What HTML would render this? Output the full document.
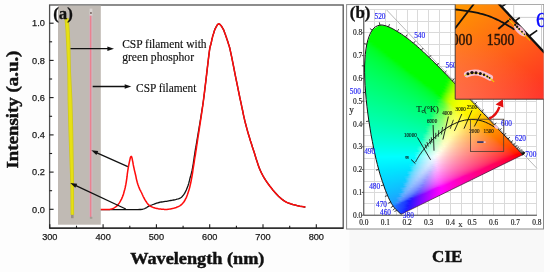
<!DOCTYPE html><html><head><meta charset="utf-8"><style>
*{margin:0;padding:0}
html,body{width:550px;height:272px;overflow:hidden;background:#fdfdfd}
.layer{position:absolute;left:0;top:0;width:550px;height:272px}
#cie{position:absolute;left:0;top:0;width:550px;height:272px}
#cie div{position:absolute}
text{font-family:'Liberation Serif',serif}
.tl{font-family:'Liberation Sans',sans-serif;font-size:9.2px;fill:#1a1a1a;stroke:#1a1a1a;stroke-width:0.25}
.ann{font-size:11.5px;fill:#111;stroke:#111;stroke-width:0.15}
.lbl{font-size:16.8px;font-weight:bold;fill:#111;stroke:#111;stroke-width:0.3}
.big{font-size:17px;font-weight:bold;fill:#111;stroke:#111;stroke-width:0.45}
.cl{font-size:7.4px;fill:#222;stroke:#222;stroke-width:0.15}
.wl{font-size:7.6px;fill:#2222f2;stroke:#2222f2;stroke-width:0.15}
.ct{fill:#111;stroke:#111;stroke-width:0.12}
.g{stroke:#dadada;stroke-width:1}
</style></head><body><svg class="layer" width="550" height="272" viewBox="0 0 550 272"><rect x="49.6" y="5.0" width="293.6" height="223.2" fill="#fff" stroke="#505050" stroke-width="1.3"/><line x1="49.6" y1="228.2" x2="343.2" y2="228.2" stroke="#1e1e1e" stroke-width="1.3"/><line x1="49.6" y1="209.3" x2="53.6" y2="209.3" stroke="#1a1a1a" stroke-width="1.1"/><text x="44.8" y="212.5" text-anchor="end" class="tl">0.0</text><line x1="49.6" y1="172.1" x2="53.6" y2="172.1" stroke="#1a1a1a" stroke-width="1.1"/><text x="44.8" y="175.3" text-anchor="end" class="tl">0.2</text><line x1="49.6" y1="134.9" x2="53.6" y2="134.9" stroke="#1a1a1a" stroke-width="1.1"/><text x="44.8" y="138.1" text-anchor="end" class="tl">0.4</text><line x1="49.6" y1="97.6" x2="53.6" y2="97.6" stroke="#1a1a1a" stroke-width="1.1"/><text x="44.8" y="100.8" text-anchor="end" class="tl">0.6</text><line x1="49.6" y1="60.4" x2="53.6" y2="60.4" stroke="#1a1a1a" stroke-width="1.1"/><text x="44.8" y="63.6" text-anchor="end" class="tl">0.8</text><line x1="49.6" y1="23.2" x2="53.6" y2="23.2" stroke="#1a1a1a" stroke-width="1.1"/><text x="44.8" y="26.4" text-anchor="end" class="tl">1.0</text><line x1="49.6" y1="190.7" x2="52.1" y2="190.7" stroke="#1a1a1a" stroke-width="1.1"/><line x1="49.6" y1="153.5" x2="52.1" y2="153.5" stroke="#1a1a1a" stroke-width="1.1"/><line x1="49.6" y1="116.3" x2="52.1" y2="116.3" stroke="#1a1a1a" stroke-width="1.1"/><line x1="49.6" y1="79" x2="52.1" y2="79" stroke="#1a1a1a" stroke-width="1.1"/><line x1="49.6" y1="41.8" x2="52.1" y2="41.8" stroke="#1a1a1a" stroke-width="1.1"/><line x1="49.8" y1="228.2" x2="49.8" y2="224.2" stroke="#1a1a1a" stroke-width="1.1"/><text x="49.8" y="240.4" text-anchor="middle" class="tl">300</text><line x1="103.1" y1="228.2" x2="103.1" y2="224.2" stroke="#1a1a1a" stroke-width="1.1"/><text x="103.1" y="240.4" text-anchor="middle" class="tl">400</text><line x1="156.4" y1="228.2" x2="156.4" y2="224.2" stroke="#1a1a1a" stroke-width="1.1"/><text x="156.4" y="240.4" text-anchor="middle" class="tl">500</text><line x1="209.7" y1="228.2" x2="209.7" y2="224.2" stroke="#1a1a1a" stroke-width="1.1"/><text x="209.7" y="240.4" text-anchor="middle" class="tl">600</text><line x1="263" y1="228.2" x2="263" y2="224.2" stroke="#1a1a1a" stroke-width="1.1"/><text x="263" y="240.4" text-anchor="middle" class="tl">700</text><line x1="316.3" y1="228.2" x2="316.3" y2="224.2" stroke="#1a1a1a" stroke-width="1.1"/><text x="316.3" y="240.4" text-anchor="middle" class="tl">800</text><line x1="76.5" y1="228.2" x2="76.5" y2="225.7" stroke="#1a1a1a" stroke-width="1.1"/><line x1="129.8" y1="228.2" x2="129.8" y2="225.7" stroke="#1a1a1a" stroke-width="1.1"/><line x1="183.1" y1="228.2" x2="183.1" y2="225.7" stroke="#1a1a1a" stroke-width="1.1"/><line x1="236.4" y1="228.2" x2="236.4" y2="225.7" stroke="#1a1a1a" stroke-width="1.1"/><line x1="289.7" y1="228.2" x2="289.7" y2="225.7" stroke="#1a1a1a" stroke-width="1.1"/><path d="M92 209.6 L95.5 209.6 L100.5 209.6 L106.5 209.6 L112.9 209.6 L119.5 209.7 L125.6 209.7 L131 209.6 L135 209.6 L137.8 209.6 L139.7 209.5 L141 209.5 L141.8 209.4 L142.4 209.3 L142.8 209.2 L143.3 209 L144 208.8 L144.8 208.5 L145.5 208.2 L146.2 207.8 L146.8 207.5 L147.4 207 L148 206.6 L148.7 206.2 L149.6 205.8 L150.6 205.4 L151.7 205 L152.9 204.5 L154.1 204.1 L155.4 203.6 L156.6 203.2 L157.9 202.8 L159.1 202.5 L160.3 202.2 L161.5 202 L162.8 201.8 L164 201.6 L165.2 201.4 L166.4 201.3 L167.6 201.1 L168.7 200.9 L169.8 200.7 L170.8 200.5 L171.8 200.4 L172.8 200.2 L173.7 200 L174.6 199.8 L175.5 199.6 L176.3 199.4 L177 199.2 L177.7 199 L178.4 198.8 L179 198.6 L179.6 198.4 L180.1 198.1 L180.7 197.8 L181.2 197.4 L181.7 197 L182.2 196.5 L182.7 195.9 L183.2 195.3 L183.7 194.7 L184.1 194.1 L184.6 193.4 L185 192.6 L185.4 191.8 L185.9 190.9 L186.3 190 L186.7 189 L187.1 188 L187.5 187 L187.9 186 L188.2 185 L188.5 184.1 L188.8 183.2 L189 182.3 L189.2 181.4 L189.5 180.5 L189.7 179.5 L189.9 178.6 L190.2 177.5 L190.5 176.4 L190.8 175.4 L191.1 174.3 L191.4 173.2 L191.7 172 L192 170.7 L192.3 169.2 L192.6 167.6 L192.9 165.7 L193.3 163.6 L193.6 161.2 L194 158.8 L194.3 156.4 L194.7 154 L195 151.9 L195.3 150 L195.5 148.6 L195.7 147.7 L195.8 147 L195.9 146.4 L196.1 145.6 L196.3 144.4 L196.6 142.6 L197 140 L197.6 136.5 L198.3 132.3 L199.1 127.5 L200 122.3 L200.9 116.8 L201.8 111.2 L202.7 105.5 L203.5 100 L204.3 94.2 L205 87.9 L205.8 81.3 L206.6 74.8 L207.3 68.4 L208 62.5 L208.6 57.4 L209.1 53.3 L209.5 50.3 L209.8 48.3 L210.1 46.9 L210.3 46.1 L210.5 45.6 L210.6 45.1 L210.8 44.6 L211 43.7 L211.2 42.6 L211.5 41.6 L211.7 40.5 L211.9 39.5 L212.1 38.5 L212.4 37.5 L212.6 36.6 L212.9 35.6 L213.2 34.6 L213.5 33.7 L213.8 32.7 L214.1 31.7 L214.4 30.8 L214.7 29.9 L215 29.1 L215.4 28.3 L215.8 27.6 L216.2 26.8 L216.6 26.1 L217 25.4 L217.4 24.8 L217.9 24.3 L218.3 24 L218.8 23.9 L219.3 24 L219.8 24.3 L220.3 24.8 L220.8 25.4 L221.4 26.1 L221.9 26.8 L222.3 27.6 L222.8 28.3 L223.2 29.1 L223.6 29.9 L224 30.8 L224.3 31.7 L224.7 32.7 L225 33.7 L225.4 34.6 L225.7 35.6 L226 36.6 L226.4 37.5 L226.7 38.5 L227.1 39.5 L227.4 40.5 L227.7 41.6 L228.1 42.6 L228.4 43.7 L228.7 44.6 L228.9 45.2 L229.1 45.8 L229.3 46.4 L229.5 47.3 L229.9 48.6 L230.3 50.6 L230.9 53.3 L231.7 57.1 L232.6 61.7 L233.7 67.1 L234.8 72.9 L236 78.8 L237.2 84.6 L238.3 90.1 L239.3 95 L240.2 99.3 L241.1 103.4 L241.9 107.3 L242.7 111 L243.4 114.6 L244.2 118.1 L245 121.6 L245.9 125 L246.8 128.4 L247.7 131.7 L248.6 134.8 L249.6 138 L250.5 141 L251.5 144 L252.4 147 L253.4 150 L254.4 153 L255.3 156 L256.2 159 L257.2 161.9 L258.1 164.8 L259.1 167.6 L260.2 170.2 L261.4 172.8 L262.7 175.3 L264 177.6 L265.4 179.9 L266.9 182.1 L268.4 184.2 L269.9 186.2 L271.4 188.1 L272.8 189.9 L274.2 191.6 L275.7 193.2 L277.1 194.8 L278.5 196.2 L279.9 197.5 L281.4 198.8 L282.8 199.9 L284.2 200.9 L285.6 201.8 L287.1 202.5 L288.5 203.1 L290 203.6 L291.4 204.1 L292.9 204.5 L294.3 204.8 L295.6 205.2 L297 205.6 L298.4 205.9 L299.8 206.2 L301.2 206.4 L302.5 206.6 L303.7 206.8 L304.7 207 L305.4 207.1" fill="none" stroke="#111" stroke-width="1.3"/><path d="M92 209.4 L93.1 209.4 L94.7 209.4 L96.6 209.4 L98.6 209.4 L100.7 209.4 L102.7 209.4 L104.5 209.4 L106 209.4 L107.2 209.4 L108.1 209.4 L109 209.4 L109.7 209.4 L110.3 209.3 L110.9 209.2 L111.6 209 L112.3 208.8 L113 208.5 L113.8 208.1 L114.5 207.7 L115.3 207.2 L116 206.7 L116.7 206.1 L117.3 205.4 L118 204.7 L118.6 203.9 L119.2 203.1 L119.8 202.2 L120.4 201.2 L120.9 200.2 L121.5 199.1 L122 197.9 L122.5 196.7 L123 195.4 L123.5 194 L123.9 192.5 L124.3 190.9 L124.8 189.3 L125.2 187.7 L125.5 186 L125.9 184.2 L126.2 182.3 L126.5 180.3 L126.8 178.3 L127.1 176.2 L127.3 174 L127.6 172 L127.9 170 L128.2 168.2 L128.5 166.4 L128.9 164.4 L129.3 162.4 L129.7 160.6 L130.1 158.9 L130.4 157.6 L130.8 156.7 L131.2 156.4 L131.6 156.7 L131.9 157.6 L132.2 158.9 L132.5 160.6 L132.9 162.4 L133.2 164.4 L133.6 166.4 L134 168.2 L134.4 170.1 L134.9 172.1 L135.4 174.2 L135.9 176.4 L136.3 178.6 L136.8 180.6 L137.3 182.5 L137.8 184.2 L138.3 185.6 L138.7 186.8 L139.2 187.9 L139.6 188.9 L140 189.8 L140.5 190.6 L140.9 191.5 L141.4 192.5 L141.9 193.5 L142.3 194.5 L142.8 195.5 L143.2 196.5 L143.7 197.5 L144.2 198.4 L144.7 199.3 L145.2 200.2 L145.7 201 L146.3 201.8 L146.8 202.6 L147.4 203.4 L148 204.1 L148.6 204.7 L149.3 205.4 L150 205.9 L150.7 206.4 L151.6 206.8 L152.4 207.1 L153.3 207.5 L154.1 207.7 L155 208 L155.9 208.2 L156.7 208.4 L157.5 208.6 L158.3 208.8 L159.1 208.9 L159.9 209 L160.7 209.1 L161.5 209.2 L162.2 209.2 L163 209.3 L163.7 209.3 L164.4 209.4 L165.1 209.4 L165.8 209.4 L166.4 209.4 L167.2 209.4 L167.9 209.3 L168.7 209.2 L169.6 209.1 L170.5 208.9 L171.5 208.7 L172.5 208.5 L173.5 208.3 L174.5 208 L175.4 207.7 L176.3 207.4 L177.1 207.1 L177.9 206.8 L178.7 206.4 L179.4 206.1 L180.1 205.7 L180.8 205.2 L181.4 204.6 L182.1 204 L182.7 203.3 L183.4 202.5 L184 201.7 L184.6 200.8 L185.1 199.8 L185.7 198.7 L186.3 197.6 L186.8 196.3 L187.3 195 L187.8 193.6 L188.3 192.1 L188.8 190.6 L189.3 188.9 L189.8 187.1 L190.2 185.2 L190.7 183 L191.2 180.6 L191.7 177.9 L192.2 175 L192.7 171.9 L193.1 168.8 L193.6 165.8 L194.1 162.8 L194.5 160 L194.9 157.5 L195.3 155.3 L195.6 153.2 L195.9 151.1 L196.3 148.8 L196.6 146.3 L197.1 143.4 L197.6 140 L198.2 136 L198.9 131.6 L199.6 126.8 L200.4 121.7 L201.2 116.4 L202 110.9 L202.8 105.5 L203.5 100 L204.2 94.2 L205 87.9 L205.8 81.3 L206.5 74.8 L207.3 68.4 L208 62.5 L208.6 57.4 L209.1 53.3 L209.5 50.3 L209.8 48.3 L210.1 46.9 L210.3 46.1 L210.5 45.6 L210.6 45.1 L210.8 44.6 L211 43.7 L211.2 42.6 L211.5 41.6 L211.7 40.5 L211.9 39.5 L212.1 38.5 L212.4 37.5 L212.6 36.6 L212.9 35.6 L213.2 34.6 L213.5 33.7 L213.8 32.7 L214.1 31.7 L214.4 30.8 L214.7 29.9 L215 29.1 L215.4 28.3 L215.8 27.6 L216.2 26.8 L216.6 26.1 L217 25.4 L217.4 24.8 L217.9 24.3 L218.3 24 L218.8 23.9 L219.3 24 L219.8 24.3 L220.3 24.8 L220.8 25.4 L221.4 26.1 L221.9 26.8 L222.3 27.6 L222.8 28.3 L223.2 29.1 L223.6 29.9 L224 30.8 L224.3 31.7 L224.7 32.7 L225 33.7 L225.4 34.6 L225.7 35.6 L226 36.6 L226.4 37.5 L226.7 38.5 L227.1 39.5 L227.4 40.5 L227.7 41.6 L228.1 42.6 L228.4 43.7 L228.7 44.6 L228.9 45.2 L229.1 45.8 L229.3 46.4 L229.5 47.3 L229.9 48.6 L230.3 50.6 L230.9 53.3 L231.7 57.1 L232.6 61.7 L233.7 67.1 L234.8 72.9 L236 78.8 L237.2 84.6 L238.3 90.1 L239.3 95 L240.2 99.3 L241.1 103.4 L241.9 107.3 L242.7 111 L243.4 114.6 L244.2 118.1 L245 121.6 L245.9 125 L246.8 128.4 L247.7 131.7 L248.6 134.8 L249.6 138 L250.5 141 L251.5 144 L252.4 147 L253.4 150 L254.4 153 L255.3 156 L256.2 159 L257.2 161.9 L258.1 164.8 L259.1 167.6 L260.2 170.2 L261.4 172.8 L262.7 175.3 L264 177.6 L265.4 179.9 L266.9 182.1 L268.4 184.2 L269.9 186.2 L271.4 188.1 L272.8 189.9 L274.2 191.6 L275.7 193.2 L277.1 194.8 L278.5 196.2 L279.9 197.5 L281.4 198.8 L282.8 199.9 L284.2 200.9 L285.6 201.8 L287.1 202.5 L288.5 203.1 L290 203.6 L291.4 204.1 L292.9 204.5 L294.3 204.8 L295.6 205.2 L297 205.6 L298.4 205.9 L299.8 206.2 L301.2 206.4 L302.5 206.6 L303.7 206.8 L304.7 207 L305.4 207.1" fill="none" stroke="#ff0c0c" stroke-width="1.55"/><rect x="58" y="5.65" width="42.8" height="219.05" fill="#c0bab4"/><path d="M64.5 18.6 L65.5 30.5 L66.2 44.9 L67.3 69.6 L67.6 100 L68.4 130 L70.3 183 L70.6 215 L74.1 215 L74 183 L73.2 130 L72.4 100 L70.9 69.6 L70.4 44.9 L69.7 30.5 L68.8 18.6 Z" fill="#cfc81c"/><path d="M65.3 18.6 L66.3 30.5 L67 44.9 L68.1 69.6 L68.4 100 L69.2 130 L71.1 183 L71.4 215 L73.3 215 L73.2 183 L72.4 130 L71.6 100 L70.1 69.6 L69.6 44.9 L68.9 30.5 L68 18.6 Z" fill="#e6e014"/><path d="M64.5 18.8 Q66.6 16.8 68.8 18.8 Z" fill="#cfc81c"/><rect x="71" y="214.8" width="2.6" height="3.4" fill="#9a8f86"/><rect x="89.0" y="15" width="3.6" height="202" fill="#cbb9c2"/><rect x="89.8" y="15" width="1.6" height="202" fill="#ea8290"/><rect x="89.6" y="8.6" width="2.8" height="7" fill="#d9d4d2"/><rect x="90.3" y="12" width="1.3" height="2" fill="#6a5550"/><rect x="89.9" y="216.8" width="2.4" height="2" fill="#a49a94"/><line x1="70.5" y1="48.7" x2="108.4" y2="48.7" stroke="#111" stroke-width="1.3"/><path d="M114 48.7 L107.4 50.9 L107.4 46.5 Z" fill="#111"/><line x1="92.7" y1="86.5" x2="125.7" y2="86.5" stroke="#111" stroke-width="1.3"/><path d="M131.3 86.5 L124.7 88.7 L124.7 84.3 Z" fill="#111"/><line x1="127.8" y1="166.6" x2="96.4" y2="152.6" stroke="#111" stroke-width="1.3"/><path d="M91.3 150.3 L98.2 151 L96.4 155 Z" fill="#111"/><line x1="125.8" y1="209" x2="75.4" y2="185.4" stroke="#111" stroke-width="1.3"/><path d="M70.3 183 L77.2 183.8 L75.3 187.8 Z" fill="#111"/><text x="122.2" y="47.8" class="ann" textLength="84.4" lengthAdjust="spacingAndGlyphs">CSP filament with</text><text x="122.2" y="61" class="ann" textLength="71.8" lengthAdjust="spacingAndGlyphs">green phosphor</text><text x="136.1" y="91.8" class="ann" textLength="60.3" lengthAdjust="spacingAndGlyphs">CSP filament</text><text x="53.2" y="18.6" class="lbl">(a)</text><text x="130.2" y="263.8" class="big" style="font-size:17.2px" textLength="134.2" lengthAdjust="spacingAndGlyphs">Wavelength (nm)</text><text transform="translate(17.7 168.6) rotate(-90)" class="big" style="font-size:17.4px" textLength="118" lengthAdjust="spacingAndGlyphs">Intensity (a.u.)</text><rect x="349.3" y="229" width="194.7" height="43" fill="#f8f8f8"/><rect x="346.6" y="4.6" width="196.9" height="224.4" fill="#fff" stroke="#8a8a8a" stroke-width="1"/><line x1="363.5" y1="215.2" x2="363.5" y2="10" class="g"/><line x1="374.5" y1="215.2" x2="374.5" y2="10" class="g"/><line x1="385.5" y1="215.2" x2="385.5" y2="10" class="g"/><line x1="396.5" y1="215.2" x2="396.5" y2="10" class="g"/><line x1="407.5" y1="215.2" x2="407.5" y2="10" class="g"/><line x1="417.5" y1="215.2" x2="417.5" y2="10" class="g"/><line x1="428.5" y1="215.2" x2="428.5" y2="10" class="g"/><line x1="439.5" y1="215.2" x2="439.5" y2="10" class="g"/><line x1="450.5" y1="215.2" x2="450.5" y2="10" class="g"/><line x1="461.5" y1="215.2" x2="461.5" y2="10" class="g"/><line x1="472.5" y1="215.2" x2="472.5" y2="10" class="g"/><line x1="482.5" y1="215.2" x2="482.5" y2="10" class="g"/><line x1="493.5" y1="215.2" x2="493.5" y2="10" class="g"/><line x1="504.5" y1="215.2" x2="504.5" y2="10" class="g"/><line x1="515.5" y1="215.2" x2="515.5" y2="10" class="g"/><line x1="526.5" y1="215.2" x2="526.5" y2="10" class="g"/><line x1="536.5" y1="215.2" x2="536.5" y2="10" class="g"/><line x1="363.8" y1="215.5" x2="536.9" y2="215.5" class="g"/><line x1="363.8" y1="203.5" x2="536.9" y2="203.5" class="g"/><line x1="363.8" y1="192.5" x2="536.9" y2="192.5" class="g"/><line x1="363.8" y1="181.5" x2="536.9" y2="181.5" class="g"/><line x1="363.8" y1="169.5" x2="536.9" y2="169.5" class="g"/><line x1="363.8" y1="158.5" x2="536.9" y2="158.5" class="g"/><line x1="363.8" y1="146.5" x2="536.9" y2="146.5" class="g"/><line x1="363.8" y1="135.5" x2="536.9" y2="135.5" class="g"/><line x1="363.8" y1="123.5" x2="536.9" y2="123.5" class="g"/><line x1="363.8" y1="112.5" x2="536.9" y2="112.5" class="g"/><line x1="363.8" y1="101.5" x2="536.9" y2="101.5" class="g"/><line x1="363.8" y1="89.5" x2="536.9" y2="89.5" class="g"/><line x1="363.8" y1="78.5" x2="536.9" y2="78.5" class="g"/><line x1="363.8" y1="66.5" x2="536.9" y2="66.5" class="g"/><line x1="363.8" y1="55.5" x2="536.9" y2="55.5" class="g"/><line x1="363.8" y1="44.5" x2="536.9" y2="44.5" class="g"/><line x1="363.8" y1="32.5" x2="536.9" y2="32.5" class="g"/><line x1="363.8" y1="21.5" x2="536.9" y2="21.5" class="g"/><line x1="363.8" y1="9.5" x2="536.9" y2="9.5" class="g"/><line x1="386.7" y1="10" x2="536.9" y2="168.3" stroke="#b0b0b0" stroke-width="0.9"/><line x1="363.8" y1="215.2" x2="536.9" y2="215.2" stroke="#444" stroke-width="1"/><line x1="363.8" y1="215.2" x2="363.8" y2="10" stroke="#444" stroke-width="1"/><text x="363.8" y="224.6" text-anchor="middle" class="cl">0.0</text><text x="385.4" y="224.6" text-anchor="middle" class="cl">0.1</text><text x="407.1" y="224.6" text-anchor="middle" class="cl">0.2</text><text x="428.7" y="224.6" text-anchor="middle" class="cl">0.3</text><text x="450.4" y="224.6" text-anchor="middle" class="cl">0.4</text><text x="472" y="224.6" text-anchor="middle" class="cl">0.5</text><text x="493.6" y="224.6" text-anchor="middle" class="cl">0.6</text><text x="515.3" y="224.6" text-anchor="middle" class="cl">0.7</text><text x="536.9" y="224.6" text-anchor="middle" class="cl">0.8</text><text x="362.3" y="217.7" text-anchor="end" class="cl">0.0</text><line x1="361.8" y1="215.2" x2="363.8" y2="215.2" stroke="#444" stroke-width="0.9"/><text x="362.3" y="194.9" text-anchor="end" class="cl">0.1</text><line x1="361.8" y1="192.4" x2="363.8" y2="192.4" stroke="#444" stroke-width="0.9"/><text x="362.3" y="172.1" text-anchor="end" class="cl">0.2</text><line x1="361.8" y1="169.6" x2="363.8" y2="169.6" stroke="#444" stroke-width="0.9"/><text x="362.3" y="149.3" text-anchor="end" class="cl">0.3</text><line x1="361.8" y1="146.8" x2="363.8" y2="146.8" stroke="#444" stroke-width="0.9"/><text x="362.3" y="126.5" text-anchor="end" class="cl">0.4</text><line x1="361.8" y1="124" x2="363.8" y2="124" stroke="#444" stroke-width="0.9"/><text x="362.3" y="103.7" text-anchor="end" class="cl">0.5</text><line x1="361.8" y1="101.2" x2="363.8" y2="101.2" stroke="#444" stroke-width="0.9"/><text x="362.3" y="80.9" text-anchor="end" class="cl">0.6</text><line x1="361.8" y1="78.4" x2="363.8" y2="78.4" stroke="#444" stroke-width="0.9"/><text x="362.3" y="58.1" text-anchor="end" class="cl">0.7</text><line x1="361.8" y1="55.6" x2="363.8" y2="55.6" stroke="#444" stroke-width="0.9"/><text x="362.3" y="35.3" text-anchor="end" class="cl">0.8</text><line x1="361.8" y1="32.8" x2="363.8" y2="32.8" stroke="#444" stroke-width="0.9"/><text x="458.2" y="226.8" class="cl" style="font-size:8.6px">x</text><text x="349.3" y="113.4" class="cl" style="font-size:9.4px">y</text><text x="349.8" y="18.4" class="lbl">(b)</text><text x="432.1" y="262.3" class="big" style="font-size:17.6px" textLength="30.3" lengthAdjust="spacingAndGlyphs">CIE</text></svg><div id="cie" style="clip-path:polygon(401.5px 214.1px,401.5px 214.1px,401.4px 214.1px,401.4px 214.1px,401.3px 214.1px,401.2px 214.1px,401.2px 214.1px,401px 214.1px,400.9px 214px,400.7px 213.9px,400.3px 213.6px,399.9px 213.2px,399.4px 212.7px,398.7px 212.1px,397.7px 211.2px,396.5px 210px,395px 208.4px,393.1px 206.1px,390.7px 202px,387.5px 195.4px,383.6px 184.9px,378.7px 169.4px,373.6px 147.9px,368.9px 121.1px,365.6px 92.4px,364.6px 65.9px,366.8px 44.2px,372.2px 30.1px,379.9px 25.1px,388.5px 26.8px,397.3px 31.5px,405.5px 37px,413.5px 43.2px,421.3px 50.1px,429.1px 57.4px,436.8px 65px,444.5px 72.8px,452.2px 80.8px,459.9px 88.7px,467.4px 96.6px,474.7px 104.3px,481.7px 111.6px,488.3px 118.5px,494.3px 124.8px,499.5px 130.3px,504.1px 135.1px,507.9px 139px,511px 142.3px,513.4px 144.9px,515.4px 147px,517px 148.6px,518.3px 150px,519.4px 151.2px,520.3px 152px,520.9px 152.7px,521.4px 153.3px,521.8px 153.6px,522px 153.9px,522.2px 154.1px,522.4px 154.3px,522.5px 154.4px,522.6px 154.6px,522.7px 154.6px,522.8px 154.7px,522.8px 154.7px)"><div style="top:25px;left:374.5px;width:12px;height:1px;background:linear-gradient(90deg,#00ff00 0%,#00ff00 33.3%,#00ff00 66.7%,#00ff00 100%)"></div><div style="top:26px;left:373px;width:18.5px;height:1px;background:linear-gradient(90deg,#00ff00 0%,#00ff00 20%,#00ff00 40%,#00ff00 60%,#00ff00 80%,#00ff00 100%)"></div><div style="top:27px;left:371.5px;width:23px;height:1px;background:linear-gradient(90deg,#00ff00 0%,#00ff00 16.7%,#00ff00 33.3%,#00ff00 50%,#00ff00 66.7%,#00ff00 83.3%,#00ff00 100%)"></div><div style="top:28px;left:370px;width:26.5px;height:1px;background:linear-gradient(90deg,#00ff00 0%,#00ff00 14.3%,#00ff00 28.6%,#00ff00 42.9%,#00ff00 57.1%,#00ff00 71.4%,#00ff00 85.7%,#00ff00 100%)"></div><div style="top:29px;left:368.5px;width:30px;height:1px;background:linear-gradient(90deg,#00ff00 0%,#00ff00 12.5%,#00ff00 25%,#00ff00 37.5%,#00ff00 50%,#00ff00 62.5%,#00ff00 75%,#00ff00 87.5%,#00ff00 100%)"></div><div style="top:30px;left:367.5px;width:32.5px;height:1px;background:linear-gradient(90deg,#00ff00 0%,#00ff00 11.1%,#00ff00 22.2%,#00ff00 33.3%,#00ff00 44.4%,#00ff00 55.6%,#00ff00 66.7%,#00ff00 77.8%,#00ff00 88.9%,#00ff00 100%)"></div><div style="top:31px;left:367px;width:35px;height:1px;background:linear-gradient(90deg,#00ff00 0%,#00ff00 11.1%,#00ff00 22.2%,#00ff00 33.3%,#00ff00 44.4%,#00ff00 55.6%,#00ff00 66.7%,#00ff00 77.8%,#00ff00 88.9%,#00ff00 100%)"></div><div style="top:32px;left:366.5px;width:37px;height:1px;background:linear-gradient(90deg,#00ff00 0%,#00ff00 10%,#00ff00 20%,#00ff00 30%,#00ff00 40%,#00ff00 50%,#00ff00 60%,#00ff00 70%,#00ff00 80%,#00ff00 90%,#00ff00 100%)"></div><div style="top:33px;left:366px;width:39px;height:1px;background:linear-gradient(90deg,#00ff00 0%,#00ff00 10%,#00ff00 20%,#00ff00 30%,#00ff00 40%,#00ff00 50%,#00ff00 60%,#00ff00 70%,#00ff00 80%,#00ff00 90%,#00ff00 100%)"></div><div style="top:34px;left:366px;width:40.5px;height:1px;background:linear-gradient(90deg,#00ff00 0%,#00ff00 9.1%,#00ff00 18.2%,#00ff00 27.3%,#00ff00 36.4%,#00ff00 45.5%,#00ff00 54.5%,#00ff00 63.6%,#00ff00 72.7%,#00ff00 81.8%,#00ff00 90.9%,#00ff00 100%)"></div><div style="top:35px;left:365.5px;width:42.5px;height:1px;background:linear-gradient(90deg,#00ff00 0%,#00ff00 9.1%,#00ff00 18.2%,#00ff00 27.3%,#00ff00 36.4%,#00ff00 45.5%,#00ff00 54.5%,#00ff00 63.6%,#00ff00 72.7%,#00ff00 81.8%,#00ff00 90.9%,#00ff00 100%)"></div><div style="top:36px;left:365px;width:44.5px;height:1px;background:linear-gradient(90deg,#00ff00 0%,#00ff00 8.3%,#00ff00 16.7%,#00ff00 25%,#00ff00 33.3%,#00ff00 41.7%,#00ff00 50%,#00ff00 58.3%,#00ff00 66.7%,#00ff00 75%,#00ff00 83.3%,#00ff00 91.7%,#00ff00 100%)"></div><div style="top:37px;left:364.5px;width:46.5px;height:1px;background:linear-gradient(90deg,#00ff04 0%,#00ff00 8.3%,#00ff00 16.7%,#00ff00 25%,#00ff00 33.3%,#00ff00 41.7%,#00ff00 50%,#00ff00 58.3%,#00ff00 66.7%,#00ff00 75%,#00ff00 83.3%,#00ff00 91.7%,#00ff00 100%)"></div><div style="top:38px;left:364px;width:48px;height:1px;background:linear-gradient(90deg,#00ff10 0%,#00ff00 8.3%,#00ff00 16.7%,#00ff00 25%,#00ff00 33.3%,#00ff00 41.7%,#00ff00 50%,#00ff00 58.3%,#00ff00 66.7%,#00ff00 75%,#00ff00 83.3%,#00ff00 91.7%,#00ff00 100%)"></div><div style="top:39px;left:364px;width:49.5px;height:1px;background:linear-gradient(90deg,#00ff16 0%,#00ff00 7.7%,#00ff00 15.4%,#00ff00 23.1%,#00ff00 30.8%,#00ff00 38.5%,#00ff00 46.2%,#00ff00 53.8%,#00ff00 61.5%,#00ff00 69.2%,#00ff00 76.9%,#00ff00 84.6%,#00ff00 92.3%,#00ff00 100%)"></div><div style="top:40px;left:363.5px;width:51.5px;height:1px;background:linear-gradient(90deg,#00ff1d 0%,#00ff0b 7.7%,#00ff00 15.4%,#00ff00 23.1%,#00ff00 30.8%,#00ff00 38.5%,#00ff00 46.2%,#00ff00 53.8%,#00ff00 61.5%,#00ff00 69.2%,#00ff00 76.9%,#00ff00 84.6%,#00ff00 92.3%,#00ff00 100%)"></div><div style="top:41px;left:363px;width:53px;height:1px;background:linear-gradient(90deg,#00ff22 0%,#00ff15 7.1%,#00ff00 14.3%,#00ff00 21.4%,#00ff00 28.6%,#00ff00 35.7%,#00ff00 42.9%,#00ff00 50%,#00ff00 57.1%,#00ff00 64.3%,#00ff00 71.4%,#00ff00 78.6%,#00ff00 85.7%,#00ff00 92.9%,#00ff00 100%)"></div><div style="top:42px;left:362.5px;width:55px;height:1px;background:linear-gradient(90deg,#00ff27 0%,#00ff1c 7.1%,#00ff08 14.3%,#00ff00 21.4%,#00ff00 28.6%,#00ff00 35.7%,#00ff00 42.9%,#00ff00 50%,#00ff00 57.1%,#00ff00 64.3%,#00ff00 71.4%,#00ff00 78.6%,#00ff00 85.7%,#00ff00 92.9%,#00ff00 100%)"></div><div style="top:43px;left:362.5px;width:56px;height:1px;background:linear-gradient(90deg,#00ff2a 0%,#00ff20 7.1%,#00ff10 14.3%,#00ff00 21.4%,#00ff00 28.6%,#00ff00 35.7%,#00ff00 42.9%,#00ff00 50%,#00ff00 57.1%,#00ff00 64.3%,#00ff00 71.4%,#00ff00 78.6%,#00ff00 85.7%,#00ff00 92.9%,#00ff00 100%)"></div><div style="top:44px;left:362px;width:57.5px;height:1px;background:linear-gradient(90deg,#00ff2e 0%,#00ff25 6.7%,#00ff1a 13.3%,#00ff04 20%,#00ff00 26.7%,#00ff00 33.3%,#00ff00 40%,#00ff00 46.7%,#00ff00 53.3%,#00ff00 60%,#00ff00 66.7%,#00ff00 73.3%,#00ff00 80%,#00ff00 86.7%,#00ff00 93.3%,#00ff00 100%)"></div><div style="top:45px;left:362px;width:59px;height:1px;background:linear-gradient(90deg,#00ff31 0%,#00ff28 6.7%,#00ff1e 13.3%,#00ff0c 20%,#00ff00 26.7%,#00ff00 33.3%,#00ff00 40%,#00ff00 46.7%,#00ff00 53.3%,#00ff00 60%,#00ff00 66.7%,#00ff00 73.3%,#00ff00 80%,#00ff00 86.7%,#00ff00 93.3%,#00ff00 100%)"></div><div style="top:46px;left:362px;width:60px;height:1px;background:linear-gradient(90deg,#00ff33 0%,#00ff2b 6.7%,#00ff21 13.3%,#00ff12 20%,#00ff00 26.7%,#00ff00 33.3%,#00ff00 40%,#00ff00 46.7%,#00ff00 53.3%,#00ff00 60%,#00ff00 66.7%,#00ff00 73.3%,#00ff00 80%,#00ff00 86.7%,#00ff00 93.3%,#00ff00 100%)"></div><div style="top:47px;left:361.5px;width:61.5px;height:1px;background:linear-gradient(90deg,#00ff37 0%,#00ff30 6.2%,#00ff27 12.5%,#00ff1c 18.8%,#00ff08 25%,#00ff00 31.2%,#00ff00 37.5%,#00ff00 43.8%,#00ff00 50%,#00ff00 56.2%,#00ff00 62.5%,#00ff00 68.8%,#00ff00 75%,#00ff00 81.2%,#00ff00 87.5%,#00ff00 93.8%,#00ff00 100%)"></div><div style="top:48px;left:361.5px;width:63px;height:1px;background:linear-gradient(90deg,#00ff39 0%,#00ff32 6.2%,#00ff2a 12.5%,#00ff1f 18.8%,#00ff0f 25%,#00ff00 31.2%,#00ff00 37.5%,#00ff00 43.8%,#00ff00 50%,#00ff00 56.2%,#00ff00 62.5%,#00ff00 68.8%,#00ff00 75%,#00ff00 81.2%,#00ff00 87.5%,#00ff00 93.8%,#00ff00 100%)"></div><div style="top:49px;left:361.5px;width:64px;height:1px;background:linear-gradient(90deg,#00ff3b 0%,#00ff35 6.2%,#00ff2d 12.5%,#00ff23 18.8%,#00ff14 25%,#00ff00 31.2%,#00ff00 37.5%,#00ff00 43.8%,#00ff00 50%,#00ff00 56.2%,#00ff00 62.5%,#00ff00 68.8%,#00ff00 75%,#00ff00 81.2%,#00ff00 87.5%,#00ff00 93.8%,#00ff00 100%)"></div><div style="top:50px;left:361.5px;width:65px;height:1px;background:linear-gradient(90deg,#00ff3e 0%,#00ff38 5.9%,#00ff31 11.8%,#00ff28 17.6%,#00ff1d 23.5%,#00ff09 29.4%,#00ff00 35.3%,#00ff00 41.2%,#00ff00 47.1%,#00ff00 52.9%,#00ff00 58.8%,#00ff00 64.7%,#00ff00 70.6%,#00ff00 76.5%,#00ff00 82.4%,#00ff00 88.2%,#00ff00 94.1%,#00ff00 100%)"></div><div style="top:51px;left:361.5px;width:66px;height:1px;background:linear-gradient(90deg,#00ff40 0%,#00ff3a 5.9%,#00ff33 11.8%,#00ff2b 17.6%,#00ff20 23.5%,#00ff10 29.4%,#00ff00 35.3%,#00ff00 41.2%,#00ff00 47.1%,#00ff00 52.9%,#00ff00 58.8%,#00ff00 64.7%,#00ff00 70.6%,#00ff00 76.5%,#00ff00 82.4%,#00ff00 88.2%,#00ff00 94.1%,#00ff00 100%)"></div><div style="top:52px;left:361px;width:67.5px;height:1px;background:linear-gradient(90deg,#00ff43 0%,#00ff3d 5.9%,#00ff36 11.8%,#00ff2f 17.6%,#00ff25 23.5%,#00ff17 29.4%,#00ff00 35.3%,#00ff00 41.2%,#00ff00 47.1%,#00ff00 52.9%,#00ff00 58.8%,#00ff00 64.7%,#00ff00 70.6%,#00ff00 76.5%,#00ff00 82.4%,#00ff00 88.2%,#00ff00 94.1%,#00ff00 100%)"></div><div style="top:53px;left:361px;width:68.5px;height:1px;background:linear-gradient(90deg,#00ff45 0%,#00ff3f 5.6%,#00ff39 11.1%,#00ff32 16.7%,#00ff2a 22.2%,#00ff1f 27.8%,#00ff0e 33.3%,#00ff00 38.9%,#00ff00 44.4%,#00ff00 50%,#00ff00 55.6%,#00ff00 61.1%,#00ff00 66.7%,#00ff00 72.2%,#00ff00 77.8%,#00ff00 83.3%,#00ff00 88.9%,#00ff00 94.4%,#00ff00 100%)"></div><div style="top:54px;left:361px;width:70px;height:1px;background:linear-gradient(90deg,#00ff47 0%,#00ff41 5.6%,#00ff3b 11.1%,#00ff35 16.7%,#00ff2d 22.2%,#00ff22 27.8%,#00ff13 33.3%,#00ff00 38.9%,#00ff00 44.4%,#00ff00 50%,#00ff00 55.6%,#00ff00 61.1%,#00ff00 66.7%,#00ff00 72.2%,#00ff00 77.8%,#00ff00 83.3%,#00ff00 88.9%,#00ff00 94.4%,#00ff00 100%)"></div><div style="top:55px;left:361px;width:71px;height:1px;background:linear-gradient(90deg,#00ff48 0%,#00ff43 5.6%,#00ff3e 11.1%,#00ff37 16.7%,#00ff2f 22.2%,#00ff25 27.8%,#00ff18 33.3%,#00ff00 38.9%,#00ff00 44.4%,#00ff00 50%,#00ff00 55.6%,#00ff00 61.1%,#00ff00 66.7%,#00ff00 72.2%,#00ff00 77.8%,#00ff00 83.3%,#00ff00 88.9%,#00ff00 94.4%,#00ff00 100%)"></div><div style="top:56px;left:361px;width:72px;height:1px;background:linear-gradient(90deg,#00ff4a 0%,#00ff45 5.6%,#00ff40 11.1%,#00ff39 16.7%,#00ff32 22.2%,#00ff28 27.8%,#00ff1c 33.3%,#00ff04 38.9%,#00ff00 44.4%,#00ff00 50%,#00ff00 55.6%,#00ff00 61.1%,#00ff00 66.7%,#00ff00 72.2%,#00ff00 77.8%,#00ff00 83.3%,#00ff00 88.9%,#00ff00 94.4%,#00ff00 100%)"></div><div style="top:57px;left:360.5px;width:73.5px;height:1px;background:linear-gradient(90deg,#00ff4d 0%,#00ff48 5.3%,#00ff43 10.5%,#00ff3d 15.8%,#00ff37 21.1%,#00ff2f 26.3%,#00ff25 31.6%,#00ff16 36.8%,#00ff00 42.1%,#00ff00 47.4%,#00ff00 52.6%,#00ff00 57.9%,#00ff00 63.2%,#00ff00 68.4%,#00ff00 73.7%,#00ff00 78.9%,#00ff00 84.2%,#00ff00 89.5%,#00ff00 94.7%,#00ff00 100%)"></div><div style="top:58px;left:360.5px;width:74.5px;height:1px;background:linear-gradient(90deg,#00ff4f 0%,#00ff4a 5.3%,#00ff45 10.5%,#00ff3f 15.8%,#00ff39 21.1%,#00ff31 26.3%,#00ff28 31.6%,#00ff1b 36.8%,#00ff01 42.1%,#00ff00 47.4%,#00ff00 52.6%,#00ff00 57.9%,#00ff00 63.2%,#00ff00 68.4%,#00ff00 73.7%,#00ff00 78.9%,#00ff00 84.2%,#00ff00 89.5%,#00ff00 94.7%,#00ff00 100%)"></div><div style="top:59px;left:360.5px;width:75.5px;height:1px;background:linear-gradient(90deg,#00ff50 0%,#00ff4c 5.3%,#00ff47 10.5%,#00ff41 15.8%,#00ff3b 21.1%,#00ff34 26.3%,#00ff2a 31.6%,#00ff1e 36.8%,#00ff09 42.1%,#00ff00 47.4%,#00ff00 52.6%,#00ff00 57.9%,#00ff00 63.2%,#00ff00 68.4%,#00ff00 73.7%,#00ff00 78.9%,#00ff00 84.2%,#00ff00 89.5%,#00ff00 94.7%,#00ff00 100%)"></div><div style="top:60px;left:360.5px;width:76.5px;height:1px;background:linear-gradient(90deg,#00ff52 0%,#00ff4e 5%,#00ff49 10%,#00ff44 15%,#00ff3e 20%,#00ff38 25%,#00ff30 30%,#00ff26 35%,#00ff18 40%,#00ff00 45%,#00ff00 50%,#00ff00 55%,#00ff00 60%,#00ff00 65%,#00ff00 70%,#00ff00 75%,#00ff00 80%,#00ff00 85%,#00ff00 90%,#00ff00 95%,#00ff00 100%)"></div><div style="top:61px;left:360.5px;width:77.5px;height:1px;background:linear-gradient(90deg,#00ff54 0%,#00ff50 5%,#00ff4b 10%,#00ff46 15%,#00ff40 20%,#00ff3a 25%,#00ff32 30%,#00ff29 35%,#00ff1c 40%,#00ff04 45%,#00ff00 50%,#00ff00 55%,#00ff00 60%,#00ff00 65%,#00ff00 70%,#00ff00 75%,#00ff00 80%,#00ff00 85%,#00ff00 90%,#00ff00 95%,#00ff00 100%)"></div><div style="top:62px;left:360px;width:79px;height:1px;background:linear-gradient(90deg,#00ff56 0%,#00ff52 5%,#00ff4e 10%,#00ff49 15%,#00ff43 20%,#00ff3d 25%,#00ff35 30%,#00ff2d 35%,#00ff21 40%,#00ff0e 45%,#00ff00 50%,#00ff00 55%,#00ff00 60%,#00ff00 65%,#00ff00 70%,#00ff00 75%,#00ff00 80%,#00ff00 85%,#00ff00 90%,#00ff00 95%,#00ff00 100%)"></div><div style="top:63px;left:360px;width:80px;height:1px;background:linear-gradient(90deg,#00ff58 0%,#00ff54 5%,#00ff4f 10%,#00ff4a 15%,#00ff45 20%,#00ff3f 25%,#00ff38 30%,#00ff2f 35%,#00ff24 40%,#00ff13 45%,#00ff00 50%,#00ff00 55%,#00ff00 60%,#00ff00 65%,#00ff00 70%,#00ff00 75%,#00ff00 80%,#00ff00 85%,#00ff00 90%,#00ff00 95%,#00ff00 100%)"></div><div style="top:64px;left:360px;width:81px;height:1px;background:linear-gradient(90deg,#00ff5a 0%,#00ff56 4.8%,#00ff52 9.5%,#00ff4d 14.3%,#00ff48 19%,#00ff42 23.8%,#00ff3c 28.6%,#00ff34 33.3%,#00ff2b 38.1%,#00ff1f 42.9%,#00ff0a 47.6%,#00ff00 52.4%,#00ff00 57.1%,#00ff00 61.9%,#00ff00 66.7%,#00ff00 71.4%,#00ff00 76.2%,#00ff00 81%,#00ff00 85.7%,#00ff00 90.5%,#00ff00 95.2%,#00ff00 100%)"></div><div style="top:65px;left:360px;width:82px;height:1px;background:linear-gradient(90deg,#00ff5b 0%,#00ff57 4.8%,#00ff53 9.5%,#00ff4f 14.3%,#00ff4a 19%,#00ff44 23.8%,#00ff3e 28.6%,#00ff37 33.3%,#00ff2e 38.1%,#00ff23 42.9%,#00ff11 47.6%,#00ff00 52.4%,#00ff00 57.1%,#00ff00 61.9%,#00ff00 66.7%,#00ff00 71.4%,#00ff00 76.2%,#00ff00 81%,#00ff00 85.7%,#00ff00 90.5%,#00ff00 95.2%,#00ff00 100%)"></div><div style="top:66px;left:360px;width:83px;height:1px;background:linear-gradient(90deg,#00ff5d 0%,#00ff59 4.8%,#00ff55 9.5%,#00ff51 14.3%,#00ff4c 19%,#00ff46 23.8%,#00ff40 28.6%,#00ff39 33.3%,#00ff30 38.1%,#00ff26 42.9%,#00ff16 47.6%,#00ff00 52.4%,#00ff00 57.1%,#00ff00 61.9%,#00ff00 66.7%,#00ff00 71.4%,#00ff00 76.2%,#00ff00 81%,#00ff00 85.7%,#00ff00 90.5%,#00ff00 95.2%,#00ff00 100%)"></div><div style="top:67px;left:360px;width:84px;height:1px;background:linear-gradient(90deg,#00ff5f 0%,#00ff5b 4.8%,#00ff57 9.5%,#00ff52 14.3%,#00ff4d 19%,#00ff48 23.8%,#00ff42 28.6%,#00ff3b 33.3%,#00ff33 38.1%,#00ff29 42.9%,#00ff1a 47.6%,#00ff00 52.4%,#00ff00 57.1%,#00ff00 61.9%,#00ff00 66.7%,#00ff00 71.4%,#00ff00 76.2%,#00ff00 81%,#00ff00 85.7%,#00ff00 90.5%,#00ff00 95.2%,#00ff00 100%)"></div><div style="top:68px;left:360px;width:85px;height:1px;background:linear-gradient(90deg,#00ff60 0%,#00ff5d 4.5%,#00ff59 9.1%,#00ff55 13.6%,#00ff50 18.2%,#00ff4b 22.7%,#00ff46 27.3%,#00ff3f 31.8%,#00ff38 36.4%,#00ff30 40.9%,#00ff25 45.5%,#00ff14 50%,#00ff00 54.5%,#00ff00 59.1%,#00ff00 63.6%,#00ff00 68.2%,#00ff00 72.7%,#00ff00 77.3%,#00ff00 81.8%,#00ff00 86.4%,#00ff00 90.9%,#00ff00 95.5%,#00ff00 100%)"></div><div style="top:69px;left:360px;width:86px;height:1px;background:linear-gradient(90deg,#00ff62 0%,#00ff5e 4.5%,#00ff5a 9.1%,#00ff56 13.6%,#00ff52 18.2%,#00ff4d 22.7%,#00ff48 27.3%,#00ff41 31.8%,#00ff3a 36.4%,#00ff32 40.9%,#00ff27 45.5%,#00ff18 50%,#00ff00 54.5%,#00ff00 59.1%,#00ff00 63.6%,#00ff00 68.2%,#00ff00 72.7%,#00ff00 77.3%,#00ff00 81.8%,#00ff00 86.4%,#00ff00 90.9%,#00ff00 95.5%,#00ff00 100%)"></div><div style="top:70px;left:360px;width:87px;height:1px;background:linear-gradient(90deg,#00ff63 0%,#00ff60 4.5%,#00ff5c 9.1%,#00ff58 13.6%,#00ff54 18.2%,#00ff4f 22.7%,#00ff49 27.3%,#00ff43 31.8%,#00ff3c 36.4%,#00ff34 40.9%,#00ff2a 45.5%,#00ff1c 50%,#00ff00 54.5%,#00ff00 59.1%,#00ff00 63.6%,#00ff00 68.2%,#00ff00 72.7%,#00ff00 77.3%,#00ff00 81.8%,#00ff00 86.4%,#00ff00 90.9%,#00ff00 95.5%,#00ff00 100%)"></div><div style="top:71px;left:360px;width:88px;height:1px;background:linear-gradient(90deg,#00ff65 0%,#00ff61 4.5%,#00ff5e 9.1%,#00ff5a 13.6%,#00ff55 18.2%,#00ff51 22.7%,#00ff4b 27.3%,#00ff45 31.8%,#00ff3f 36.4%,#00ff37 40.9%,#00ff2d 45.5%,#00ff20 50%,#00ff07 54.5%,#00ff00 59.1%,#00ff00 63.6%,#00ff00 68.2%,#00ff00 72.7%,#00ff00 77.3%,#00ff00 81.8%,#00ff00 86.4%,#00ff00 90.9%,#00ff00 95.5%,#00ff00 100%)"></div><div style="top:72px;left:360px;width:89px;height:1px;background:linear-gradient(90deg,#00ff67 0%,#00ff63 4.3%,#00ff60 8.7%,#00ff5c 13%,#00ff58 17.4%,#00ff53 21.7%,#00ff4e 26.1%,#00ff49 30.4%,#00ff43 34.8%,#00ff3c 39.1%,#00ff34 43.5%,#00ff29 47.8%,#00ff1b 52.2%,#00ff00 56.5%,#00ff00 60.9%,#00ff00 65.2%,#00ff00 69.6%,#00ff00 73.9%,#00ff00 78.3%,#00ff00 82.6%,#00ff00 87%,#00ff00 91.3%,#00ff00 95.7%,#00ff00 100%)"></div><div style="top:73px;left:360px;width:90px;height:1px;background:linear-gradient(90deg,#00ff68 0%,#00ff65 4.3%,#00ff61 8.7%,#00ff5e 13%,#00ff59 17.4%,#00ff55 21.7%,#00ff50 26.1%,#00ff4b 30.4%,#00ff45 34.8%,#00ff3e 39.1%,#00ff36 43.5%,#00ff2c 47.8%,#00ff1f 52.2%,#00ff04 56.5%,#00ff00 60.9%,#00ff00 65.2%,#00ff00 69.6%,#00ff00 73.9%,#00ff00 78.3%,#00ff00 82.6%,#00ff00 87%,#00ff00 91.3%,#00ff00 95.7%,#07ff00 100%)"></div><div style="top:74px;left:360px;width:91px;height:1px;background:linear-gradient(90deg,#00ff6a 0%,#00ff66 4.3%,#00ff63 8.7%,#00ff5f 13%,#00ff5b 17.4%,#00ff57 21.7%,#00ff52 26.1%,#00ff4d 30.4%,#00ff47 34.8%,#00ff40 39.1%,#00ff38 43.5%,#00ff2f 47.8%,#00ff22 52.2%,#00ff0b 56.5%,#00ff00 60.9%,#00ff00 65.2%,#00ff00 69.6%,#00ff00 73.9%,#00ff00 78.3%,#00ff00 82.6%,#00ff00 87%,#00ff00 91.3%,#00ff00 95.7%,#18ff00 100%)"></div><div style="top:75px;left:360px;width:92px;height:1px;background:linear-gradient(90deg,#00ff6b 0%,#00ff68 4.3%,#00ff65 8.7%,#00ff61 13%,#00ff5d 17.4%,#00ff58 21.7%,#00ff54 26.1%,#00ff4e 30.4%,#00ff49 34.8%,#00ff42 39.1%,#00ff3a 43.5%,#00ff31 47.8%,#00ff25 52.2%,#00ff11 56.5%,#00ff00 60.9%,#00ff00 65.2%,#00ff00 69.6%,#00ff00 73.9%,#00ff00 78.3%,#00ff00 82.6%,#00ff00 87%,#00ff00 91.3%,#00ff00 95.7%,#3aff00 100%)"></div><div style="top:76px;left:360.5px;width:92.5px;height:1px;background:linear-gradient(90deg,#00ff6c 0%,#00ff69 4.2%,#00ff66 8.3%,#00ff62 12.5%,#00ff5f 16.7%,#00ff5b 20.8%,#00ff56 25%,#00ff51 29.2%,#00ff4c 33.3%,#00ff46 37.5%,#00ff3f 41.7%,#00ff37 45.8%,#00ff2d 50%,#00ff20 54.2%,#00ff07 58.3%,#00ff00 62.5%,#00ff00 66.7%,#00ff00 70.8%,#00ff00 75%,#00ff00 79.2%,#00ff00 83.3%,#00ff00 87.5%,#00ff00 91.7%,#0dff00 95.8%,#54ff00 100%)"></div><div style="top:77px;left:360.5px;width:93.5px;height:1px;background:linear-gradient(90deg,#00ff6e 0%,#00ff6b 4.2%,#00ff68 8.3%,#00ff64 12.5%,#00ff60 16.7%,#00ff5c 20.8%,#00ff58 25%,#00ff53 29.2%,#00ff4e 33.3%,#00ff48 37.5%,#00ff41 41.7%,#00ff39 45.8%,#00ff30 50%,#00ff23 54.2%,#00ff0e 58.3%,#00ff00 62.5%,#00ff00 66.7%,#00ff00 70.8%,#00ff00 75%,#00ff00 79.2%,#00ff00 83.3%,#00ff00 87.5%,#00ff00 91.7%,#22ff00 95.8%,#6aff00 100%)"></div><div style="top:78px;left:360.5px;width:94.5px;height:1px;background:linear-gradient(90deg,#00ff70 0%,#00ff6c 4.2%,#00ff69 8.3%,#00ff66 12.5%,#00ff62 16.7%,#00ff5e 20.8%,#00ff5a 25%,#00ff55 29.2%,#00ff50 33.3%,#00ff4a 37.5%,#00ff43 41.7%,#00ff3c 45.8%,#00ff32 50%,#00ff26 54.2%,#00ff13 58.3%,#00ff00 62.5%,#00ff00 66.7%,#00ff00 70.8%,#00ff00 75%,#00ff00 79.2%,#00ff00 83.3%,#00ff00 87.5%,#00ff00 91.7%,#41ff00 95.8%,#80ff00 100%)"></div><div style="top:79px;left:360.5px;width:95.5px;height:1px;background:linear-gradient(90deg,#00ff71 0%,#00ff6e 4.2%,#00ff6b 8.3%,#00ff67 12.5%,#00ff64 16.7%,#00ff60 20.8%,#00ff5b 25%,#00ff57 29.2%,#00ff51 33.3%,#00ff4c 37.5%,#00ff45 41.7%,#00ff3e 45.8%,#00ff35 50%,#00ff29 54.2%,#00ff18 58.3%,#00ff00 62.5%,#00ff00 66.7%,#00ff00 70.8%,#00ff00 75%,#00ff00 79.2%,#00ff00 83.3%,#00ff00 87.5%,#0fff00 91.7%,#5aff00 95.8%,#95ff00 100%)"></div><div style="top:80px;left:360.5px;width:96px;height:1px;background:linear-gradient(90deg,#00ff73 0%,#00ff70 4.2%,#00ff6c 8.3%,#00ff69 12.5%,#00ff65 16.7%,#00ff61 20.8%,#00ff5d 25%,#00ff59 29.2%,#00ff53 33.3%,#00ff4e 37.5%,#00ff47 41.7%,#00ff40 45.8%,#00ff38 50%,#00ff2d 54.2%,#00ff1e 58.3%,#00ff00 62.5%,#00ff00 66.7%,#00ff00 70.8%,#00ff00 75%,#00ff00 79.2%,#00ff00 83.3%,#00ff00 87.5%,#19ff00 91.7%,#68ff00 95.8%,#a1ff00 100%)"></div><div style="top:81px;left:360.5px;width:97px;height:1px;background:linear-gradient(90deg,#00ff74 0%,#00ff71 4%,#00ff6e 8%,#00ff6b 12%,#00ff67 16%,#00ff64 20%,#00ff60 24%,#00ff5c 28%,#00ff57 32%,#00ff52 36%,#00ff4c 40%,#00ff46 44%,#00ff3e 48%,#00ff35 52%,#00ff2a 56%,#00ff19 60%,#00ff00 64%,#00ff00 68%,#00ff00 72%,#00ff00 76%,#00ff00 80%,#00ff00 84%,#00ff00 88%,#41ff00 92%,#81ff00 96%,#b4ff00 100%)"></div><div style="top:82px;left:360.5px;width:98px;height:1px;background:linear-gradient(90deg,#00ff76 0%,#00ff73 4%,#00ff70 8%,#00ff6d 12%,#00ff69 16%,#00ff65 20%,#00ff61 24%,#00ff5d 28%,#00ff59 32%,#00ff53 36%,#00ff4e 40%,#00ff47 44%,#00ff40 48%,#00ff37 52%,#00ff2c 56%,#00ff1d 60%,#00ff00 64%,#00ff00 68%,#00ff00 72%,#00ff00 76%,#00ff00 80%,#00ff00 84%,#0eff00 88%,#59ff00 92%,#95ff00 96%,#c5ff00 100%)"></div><div style="top:83px;left:360.5px;width:99px;height:1px;background:linear-gradient(90deg,#00ff77 0%,#00ff74 4%,#00ff71 8%,#00ff6e 12%,#00ff6b 16%,#00ff67 20%,#00ff63 24%,#00ff5f 28%,#00ff5a 32%,#00ff55 36%,#00ff50 40%,#00ff49 44%,#00ff42 48%,#00ff3a 52%,#00ff2f 56%,#00ff20 60%,#00ff02 64%,#00ff00 68%,#00ff00 72%,#00ff00 76%,#00ff00 80%,#00ff00 84%,#24ff00 88%,#6fff00 92%,#a8ff00 96%,#cfff00 100%)"></div><div style="top:84px;left:360.5px;width:100px;height:1px;background:linear-gradient(90deg,#00ff79 0%,#00ff76 4%,#00ff73 8%,#00ff70 12%,#00ff6c 16%,#00ff69 20%,#00ff65 24%,#00ff61 28%,#00ff5c 32%,#00ff57 36%,#00ff51 40%,#00ff4b 44%,#00ff44 48%,#00ff3c 52%,#00ff32 56%,#00ff24 60%,#00ff0a 64%,#00ff00 68%,#00ff00 72%,#00ff00 76%,#00ff00 80%,#00ff00 84%,#42ff00 88%,#85ff00 92%,#baff00 96%,#d5ff00 100%)"></div><div style="top:85px;left:360.5px;width:101px;height:1px;background:linear-gradient(90deg,#00ff7a 0%,#00ff78 3.8%,#00ff75 7.7%,#00ff72 11.5%,#00ff6e 15.4%,#00ff6b 19.2%,#00ff67 23.1%,#00ff63 26.9%,#00ff5f 30.8%,#00ff5b 34.6%,#00ff55 38.5%,#00ff50 42.3%,#00ff49 46.2%,#00ff42 50%,#00ff3a 53.8%,#00ff2f 57.7%,#00ff20 61.5%,#00ff01 65.4%,#00ff00 69.2%,#00ff00 73.1%,#00ff00 76.9%,#00ff00 80.8%,#13ff00 84.6%,#62ff00 88.5%,#9dff00 92.3%,#ccff00 96.2%,#daff00 100%)"></div><div style="top:86px;left:360.5px;width:102px;height:1px;background:linear-gradient(90deg,#00ff7c 0%,#00ff79 3.8%,#00ff76 7.7%,#00ff73 11.5%,#00ff70 15.4%,#00ff6d 19.2%,#00ff69 23.1%,#00ff65 26.9%,#00ff61 30.8%,#00ff5c 34.6%,#00ff57 38.5%,#00ff52 42.3%,#00ff4b 46.2%,#00ff44 50%,#00ff3c 53.8%,#00ff31 57.7%,#00ff23 61.5%,#00ff09 65.4%,#00ff00 69.2%,#00ff00 73.1%,#00ff00 76.9%,#00ff00 80.8%,#30ff00 84.6%,#78ff00 88.5%,#b0ff00 92.3%,#d2ff00 96.2%,#e0ff00 100%)"></div><div style="top:87px;left:360.5px;width:103px;height:1px;background:linear-gradient(90deg,#00ff7d 0%,#00ff7b 3.8%,#00ff78 7.7%,#00ff75 11.5%,#00ff72 15.4%,#00ff6e 19.2%,#00ff6b 23.1%,#00ff67 26.9%,#00ff63 30.8%,#00ff5e 34.6%,#00ff59 38.5%,#00ff53 42.3%,#00ff4d 46.2%,#00ff46 50%,#00ff3e 53.8%,#00ff34 57.7%,#00ff27 61.5%,#00ff10 65.4%,#00ff00 69.2%,#00ff00 73.1%,#00ff00 76.9%,#00ff00 80.8%,#4cff00 84.6%,#8dff00 88.5%,#c1ff00 92.3%,#d7ff00 96.2%,#e5ff00 100%)"></div><div style="top:88px;left:360.5px;width:104px;height:1px;background:linear-gradient(90deg,#00ff7f 0%,#00ff7c 3.8%,#00ff79 7.7%,#00ff76 11.5%,#00ff73 15.4%,#00ff70 19.2%,#00ff6c 23.1%,#00ff68 26.9%,#00ff64 30.8%,#00ff60 34.6%,#00ff5b 38.5%,#00ff55 42.3%,#00ff4f 46.2%,#00ff48 50%,#00ff40 53.8%,#00ff36 57.7%,#00ff2a 61.5%,#00ff15 65.4%,#00ff00 69.2%,#00ff00 73.1%,#00ff00 76.9%,#11ff00 80.8%,#62ff00 84.6%,#a0ff00 88.5%,#ceff00 92.3%,#ddff00 96.2%,#eaff00 100%)"></div><div style="top:89px;left:360.5px;width:105px;height:1px;background:linear-gradient(90deg,#00ff80 0%,#00ff7e 3.7%,#00ff7b 7.4%,#00ff78 11.1%,#00ff75 14.8%,#00ff72 18.5%,#00ff6f 22.2%,#00ff6b 25.9%,#00ff67 29.6%,#00ff63 33.3%,#00ff5e 37%,#00ff59 40.7%,#00ff54 44.4%,#00ff4e 48.1%,#00ff47 51.9%,#00ff3e 55.6%,#00ff34 59.3%,#00ff27 63%,#00ff0f 66.7%,#00ff00 70.4%,#00ff00 74.1%,#00ff00 77.8%,#3dff00 81.5%,#82ff00 85.2%,#b8ff00 88.9%,#d5ff00 92.6%,#e2ff00 96.3%,#efff00 100%)"></div><div style="top:90px;left:361px;width:105.5px;height:1px;background:linear-gradient(90deg,#00ff82 0%,#00ff7f 3.7%,#00ff7c 7.4%,#00ff79 11.1%,#00ff76 14.8%,#00ff73 18.5%,#00ff70 22.2%,#00ff6c 25.9%,#00ff68 29.6%,#00ff64 33.3%,#00ff60 37%,#00ff5b 40.7%,#00ff55 44.4%,#00ff4f 48.1%,#00ff48 51.9%,#00ff40 55.6%,#00ff36 59.3%,#00ff29 63%,#00ff13 66.7%,#00ff00 70.4%,#00ff00 74.1%,#09ff00 77.8%,#58ff00 81.5%,#97ff00 85.2%,#caff00 88.9%,#daff00 92.6%,#e7ff00 96.3%,#f4ff00 100%)"></div><div style="top:91px;left:361px;width:106.5px;height:1px;background:linear-gradient(90deg,#00ff83 0%,#00ff81 3.7%,#00ff7e 7.4%,#00ff7b 11.1%,#00ff78 14.8%,#00ff75 18.5%,#00ff72 22.2%,#00ff6e 25.9%,#00ff6a 29.6%,#00ff66 33.3%,#00ff61 37%,#00ff5c 40.7%,#00ff57 44.4%,#00ff51 48.1%,#00ff4a 51.9%,#00ff42 55.6%,#00ff38 59.3%,#00ff2c 63%,#00ff18 66.7%,#00ff00 70.4%,#00ff00 74.1%,#1aff00 77.8%,#6dff00 81.5%,#aaff00 85.2%,#d1ff00 88.9%,#dfff00 92.6%,#ecff00 96.3%,#f8ff00 100%)"></div><div style="top:92px;left:361px;width:107.5px;height:1px;background:linear-gradient(90deg,#00ff85 0%,#00ff82 3.7%,#00ff7f 7.4%,#00ff7d 11.1%,#00ff7a 14.8%,#00ff77 18.5%,#00ff73 22.2%,#00ff70 25.9%,#00ff6c 29.6%,#00ff68 33.3%,#00ff63 37%,#00ff5e 40.7%,#00ff59 44.4%,#00ff53 48.1%,#00ff4c 51.9%,#00ff44 55.6%,#00ff3b 59.3%,#00ff2e 63%,#00ff1d 66.7%,#00ff00 70.4%,#00ff00 74.1%,#3aff00 77.8%,#83ff00 81.5%,#bbff00 85.2%,#d6ff00 88.9%,#e4ff00 92.6%,#f1ff00 96.3%,#fdff00 100%)"></div><div style="top:93px;left:361px;width:108px;height:1px;background:linear-gradient(90deg,#00ff86 0%,#00ff84 3.7%,#00ff81 7.4%,#00ff7e 11.1%,#00ff7b 14.8%,#00ff78 18.5%,#00ff75 22.2%,#00ff71 25.9%,#00ff6e 29.6%,#00ff6a 33.3%,#00ff65 37%,#00ff60 40.7%,#00ff5b 44.4%,#00ff55 48.1%,#00ff4e 51.9%,#00ff47 55.6%,#00ff3e 59.3%,#00ff32 63%,#00ff22 66.7%,#00ff00 70.4%,#00ff00 74.1%,#4cff00 77.8%,#91ff00 81.5%,#c7ff00 85.2%,#daff00 88.9%,#e8ff00 92.6%,#f5ff00 96.3%,#ffff00 100%)"></div><div style="top:94px;left:361px;width:109px;height:1px;background:linear-gradient(90deg,#00ff88 0%,#00ff85 3.6%,#00ff83 7.1%,#00ff80 10.7%,#00ff7d 14.3%,#00ff7a 17.9%,#00ff77 21.4%,#00ff74 25%,#00ff70 28.6%,#00ff6d 32.1%,#00ff68 35.7%,#00ff64 39.3%,#00ff5f 42.9%,#00ff5a 46.4%,#00ff54 50%,#00ff4d 53.6%,#00ff45 57.1%,#00ff3c 60.7%,#00ff30 64.3%,#00ff1f 67.9%,#00ff00 71.4%,#20ff00 75%,#72ff00 78.6%,#aeff00 82.1%,#d2ff00 85.7%,#e1ff00 89.3%,#eeff00 92.9%,#faff00 96.4%,#fffd00 100%)"></div><div style="top:95px;left:361px;width:110px;height:1px;background:linear-gradient(90deg,#00ff89 0%,#00ff87 3.6%,#00ff84 7.1%,#00ff82 10.7%,#00ff7f 14.3%,#00ff7c 17.9%,#00ff79 21.4%,#00ff76 25%,#00ff72 28.6%,#00ff6e 32.1%,#00ff6a 35.7%,#00ff66 39.3%,#00ff61 42.9%,#00ff5c 46.4%,#00ff56 50%,#00ff4f 53.6%,#00ff47 57.1%,#00ff3e 60.7%,#00ff33 64.3%,#00ff22 67.9%,#00ff00 71.4%,#3fff00 75%,#87ff00 78.6%,#bfff00 82.1%,#d8ff00 85.7%,#e6ff00 89.3%,#f3ff00 92.9%,#ffff00 96.4%,#fffb00 100%)"></div><div style="top:96px;left:361.5px;width:110.5px;height:1px;background:linear-gradient(90deg,#00ff8a 0%,#00ff88 3.6%,#00ff86 7.1%,#00ff83 10.7%,#00ff80 14.3%,#00ff7d 17.9%,#00ff7a 21.4%,#00ff77 25%,#00ff73 28.6%,#00ff70 32.1%,#00ff6c 35.7%,#00ff67 39.3%,#00ff62 42.9%,#00ff5d 46.4%,#00ff57 50%,#00ff50 53.6%,#00ff49 57.1%,#00ff40 60.7%,#00ff35 64.3%,#00ff25 67.9%,#08ff04 71.4%,#5aff00 75%,#9cff00 78.6%,#ceff00 82.1%,#ddff00 85.7%,#ebff00 89.3%,#f8ff00 92.9%,#fffe00 96.4%,#fffa00 100%)"></div><div style="top:97px;left:361.5px;width:111.5px;height:1px;background:linear-gradient(90deg,#00ff8c 0%,#00ff8a 3.6%,#00ff87 7.1%,#00ff85 10.7%,#00ff82 14.3%,#00ff7f 17.9%,#00ff7c 21.4%,#00ff79 25%,#00ff75 28.6%,#00ff71 32.1%,#00ff6d 35.7%,#00ff69 39.3%,#00ff64 42.9%,#00ff5f 46.4%,#00ff59 50%,#00ff52 53.6%,#00ff4b 57.1%,#00ff42 60.7%,#00ff37 64.3%,#00ff28 67.9%,#1bff0c 71.4%,#6fff00 75%,#afff00 78.6%,#d3ff00 82.1%,#e2ff00 85.7%,#f0ff00 89.3%,#fcff00 92.9%,#fffc00 96.4%,#fff800 100%)"></div><div style="top:98px;left:361.5px;width:112.5px;height:1px;background:linear-gradient(90deg,#00ff8e 0%,#00ff8b 3.4%,#00ff89 6.9%,#00ff86 10.3%,#00ff84 13.8%,#00ff81 17.2%,#00ff7e 20.7%,#00ff7b 24.1%,#00ff78 27.6%,#00ff74 31%,#00ff70 34.5%,#00ff6c 37.9%,#00ff68 41.4%,#00ff63 44.8%,#00ff5e 48.3%,#00ff58 51.7%,#00ff51 55.2%,#00ff4a 58.6%,#00ff40 62.1%,#00ff35 65.5%,#00ff25 69%,#4cff05 72.4%,#95ff00 75.9%,#cbff00 79.3%,#dbff00 82.8%,#e9ff00 86.2%,#f6ff00 89.7%,#fffe00 93.1%,#fffa00 96.6%,#fff700 100%)"></div><div style="top:99px;left:361.5px;width:113.5px;height:1px;background:linear-gradient(90deg,#00ff8f 0%,#00ff8d 3.4%,#00ff8a 6.9%,#00ff88 10.3%,#00ff85 13.8%,#00ff83 17.2%,#00ff80 20.7%,#00ff7d 24.1%,#00ff79 27.6%,#00ff76 31%,#00ff72 34.5%,#00ff6e 37.9%,#00ff6a 41.4%,#00ff65 44.8%,#00ff60 48.3%,#00ff5a 51.7%,#00ff53 55.2%,#00ff4c 58.6%,#00ff43 62.1%,#00ff38 65.5%,#20ff29 69%,#5cff0d 72.4%,#a7ff00 75.9%,#d1ff00 79.3%,#e1ff00 82.8%,#eeff00 86.2%,#fbff00 89.7%,#fffc00 93.1%,#fff900 96.6%,#fff500 100%)"></div><div style="top:100px;left:362px;width:114px;height:1px;background:linear-gradient(90deg,#00ff90 0%,#00ff8e 3.4%,#00ff8c 6.9%,#00ff89 10.3%,#00ff87 13.8%,#00ff84 17.2%,#00ff81 20.7%,#00ff7e 24.1%,#00ff7b 27.6%,#00ff77 31%,#00ff74 34.5%,#00ff70 37.9%,#00ff6b 41.4%,#00ff66 44.8%,#00ff61 48.3%,#00ff5b 51.7%,#00ff55 55.2%,#00ff4d 58.6%,#00ff44 62.1%,#00ff3a 65.5%,#31ff2b 69%,#6eff12 72.4%,#bbff00 75.9%,#d7ff00 79.3%,#e6ff00 82.8%,#f3ff00 86.2%,#ffff00 89.7%,#fffb00 93.1%,#fff700 96.6%,#fff300 100%)"></div><div style="top:101px;left:362px;width:115px;height:1px;background:linear-gradient(90deg,#00ff92 0%,#00ff90 3.4%,#00ff8d 6.9%,#00ff8b 10.3%,#00ff88 13.8%,#00ff86 17.2%,#00ff83 20.7%,#00ff80 24.1%,#00ff7c 27.6%,#00ff79 31%,#00ff75 34.5%,#00ff71 37.9%,#00ff6d 41.4%,#00ff68 44.8%,#00ff63 48.3%,#00ff5d 51.7%,#00ff57 55.2%,#00ff4f 58.6%,#00ff47 62.1%,#00ff3c 65.5%,#39ff2e 69%,#7cff18 72.4%,#ccff00 75.9%,#dcff00 79.3%,#ebff00 82.8%,#f8ff00 86.2%,#fffd00 89.7%,#fff900 93.1%,#fff500 96.6%,#fff200 100%)"></div><div style="top:102px;left:362px;width:116px;height:1px;background:linear-gradient(90deg,#00ff93 0%,#00ff91 3.4%,#00ff8f 6.9%,#00ff8d 10.3%,#00ff8a 13.8%,#00ff87 17.2%,#00ff84 20.7%,#00ff81 24.1%,#00ff7e 27.6%,#00ff7b 31%,#00ff77 34.5%,#00ff73 37.9%,#00ff6f 41.4%,#00ff6a 44.8%,#00ff65 48.3%,#00ff5f 51.7%,#00ff59 55.2%,#00ff51 58.6%,#00ff49 62.1%,#0eff3e 65.5%,#40ff31 69%,#8bff1c 72.4%,#d2ff00 75.9%,#e2ff00 79.3%,#f0ff00 82.8%,#fdff00 86.2%,#fffc00 89.7%,#fff800 93.1%,#fff400 96.6%,#fff000 100%)"></div><div style="top:103px;left:362px;width:116.5px;height:1px;background:linear-gradient(90deg,#00ff95 0%,#00ff93 3.3%,#00ff91 6.7%,#00ff8e 10%,#00ff8c 13.3%,#00ff89 16.7%,#00ff87 20%,#00ff84 23.3%,#00ff81 26.7%,#00ff7e 30%,#00ff7a 33.3%,#00ff77 36.7%,#00ff73 40%,#00ff6e 43.3%,#00ff6a 46.7%,#00ff64 50%,#00ff5f 53.3%,#00ff58 56.7%,#00ff51 60%,#00ff48 63.3%,#3bff3e 66.7%,#5eff30 70%,#a7ff1b 73.3%,#d9ff00 76.7%,#e8ff00 80%,#f6ff00 83.3%,#fffe00 86.7%,#fffa00 90%,#fff600 93.3%,#fff300 96.7%,#ffef00 100%)"></div><div style="top:104px;left:362px;width:117.5px;height:1px;background:linear-gradient(90deg,#00ff97 0%,#00ff95 3.3%,#00ff92 6.7%,#00ff90 10%,#00ff8e 13.3%,#00ff8b 16.7%,#00ff88 20%,#00ff86 23.3%,#00ff83 26.7%,#00ff7f 30%,#00ff7c 33.3%,#00ff78 36.7%,#00ff74 40%,#00ff70 43.3%,#00ff6b 46.7%,#00ff66 50%,#00ff61 53.3%,#00ff5a 56.7%,#00ff53 60%,#00ff4b 63.3%,#44ff40 66.7%,#6dff33 70%,#b4ff20 73.3%,#dfff00 76.7%,#edff00 80%,#faff00 83.3%,#fffc00 86.7%,#fff800 90%,#fff500 93.3%,#fff100 96.7%,#ffec00 100%)"></div><div style="top:105px;left:362.5px;width:118px;height:1px;background:linear-gradient(90deg,#00ff98 0%,#00ff96 3.3%,#00ff94 6.7%,#00ff91 10%,#00ff8f 13.3%,#00ff8d 16.7%,#00ff8a 20%,#00ff87 23.3%,#00ff84 26.7%,#00ff81 30%,#00ff7d 33.3%,#00ff7a 36.7%,#00ff76 40%,#00ff72 43.3%,#00ff6d 46.7%,#00ff68 50%,#00ff62 53.3%,#00ff5c 56.7%,#00ff55 60%,#1fff4c 63.3%,#4bff42 66.7%,#7dff35 70%,#c3ff23 73.3%,#e4ff00 76.7%,#f2ff00 80%,#ffff00 83.3%,#fffb00 86.7%,#fff700 90%,#fff300 93.3%,#ffef00 96.7%,#ffe600 100%)"></div><div style="top:106px;left:362.5px;width:119px;height:1px;background:linear-gradient(90deg,#00ff9a 0%,#00ff98 3.3%,#00ff95 6.7%,#00ff93 10%,#00ff91 13.3%,#00ff8e 16.7%,#00ff8c 20%,#00ff89 23.3%,#00ff86 26.7%,#00ff83 30%,#00ff7f 33.3%,#00ff7c 36.7%,#00ff78 40%,#00ff73 43.3%,#00ff6f 46.7%,#00ff6a 50%,#00ff64 53.3%,#00ff5e 56.7%,#00ff57 60%,#34ff4e 63.3%,#52ff45 66.7%,#8bff38 70%,#cfff26 73.3%,#e9ff00 76.7%,#f7ff00 80%,#fffd00 83.3%,#fff900 86.7%,#fff500 90%,#fff100 93.3%,#ffed00 96.7%,#ffe100 100%)"></div><div style="top:107px;left:362.5px;width:120px;height:1px;background:linear-gradient(90deg,#00ff9b 0%,#00ff99 3.3%,#00ff97 6.7%,#00ff95 10%,#00ff92 13.3%,#00ff90 16.7%,#00ff8d 20%,#00ff8b 23.3%,#00ff88 26.7%,#00ff84 30%,#00ff81 33.3%,#00ff7d 36.7%,#00ff7a 40%,#00ff75 43.3%,#00ff71 46.7%,#00ff6c 50%,#00ff66 53.3%,#00ff60 56.7%,#00ff59 60%,#42ff51 63.3%,#5aff47 66.7%,#99ff3b 70%,#d7ff2a 73.3%,#edff06 76.7%,#fcff00 80%,#fffc00 83.3%,#fff800 86.7%,#fff400 90%,#fff000 93.3%,#ffe700 96.7%,#ffdc00 100%)"></div><div style="top:108px;left:362.5px;width:121px;height:1px;background:linear-gradient(90deg,#00ff9d 0%,#00ff9b 3.2%,#00ff99 6.5%,#00ff97 9.7%,#00ff94 12.9%,#00ff92 16.1%,#00ff90 19.4%,#00ff8d 22.6%,#00ff8a 25.8%,#00ff87 29%,#00ff84 32.3%,#00ff81 35.5%,#00ff7d 38.7%,#00ff79 41.9%,#00ff75 45.2%,#00ff70 48.4%,#00ff6b 51.6%,#00ff65 54.8%,#00ff5f 58.1%,#2eff58 61.3%,#56ff50 64.5%,#7cff46 67.7%,#b9ff39 71%,#e0ff28 74.2%,#f6ff00 77.4%,#fffd00 80.6%,#fff900 83.9%,#fff500 87.1%,#fff200 90.3%,#ffed00 93.5%,#ffe100 96.8%,#ffd600 100%)"></div><div style="top:109px;left:363px;width:121.5px;height:1px;background:linear-gradient(90deg,#00ff9e 0%,#00ff9c 3.2%,#00ff9a 6.5%,#00ff98 9.7%,#00ff96 12.9%,#00ff93 16.1%,#00ff91 19.4%,#00ff8e 22.6%,#00ff8c 25.8%,#00ff89 29%,#00ff85 32.3%,#00ff82 35.5%,#00ff7e 38.7%,#00ff7b 41.9%,#00ff76 45.2%,#00ff72 48.4%,#00ff6d 51.6%,#00ff67 54.8%,#00ff61 58.1%,#40ff5a 61.3%,#5cff52 64.5%,#8cff48 67.7%,#c8ff3c 71%,#e5ff2b 74.2%,#faff06 77.4%,#fffc00 80.6%,#fff800 83.9%,#fff400 87.1%,#fff000 90.3%,#ffe800 93.5%,#ffdc00 96.8%,#ffd100 100%)"></div><div style="top:110px;left:363px;width:122.5px;height:1px;background:linear-gradient(90deg,#00ffa0 0%,#00ff9e 3.2%,#00ff9c 6.5%,#00ff9a 9.7%,#00ff98 12.9%,#00ff95 16.1%,#00ff93 19.4%,#00ff90 22.6%,#00ff8d 25.8%,#00ff8a 29%,#00ff87 32.3%,#00ff84 35.5%,#00ff80 38.7%,#00ff7c 41.9%,#00ff78 45.2%,#00ff74 48.4%,#00ff6f 51.6%,#00ff69 54.8%,#00ff63 58.1%,#4dff5c 61.3%,#61ff54 64.5%,#99ff4a 67.7%,#d5ff3e 71%,#eaff2e 74.2%,#feff0f 77.4%,#fffa00 80.6%,#fff600 83.9%,#fff200 87.1%,#ffee00 90.3%,#ffe200 93.5%,#ffd700 96.8%,#ffcd00 100%)"></div><div style="top:111px;left:363px;width:123.5px;height:1px;background:linear-gradient(90deg,#00ffa1 0%,#00ffa0 3.2%,#00ff9e 6.5%,#00ff9b 9.7%,#00ff99 12.9%,#00ff97 16.1%,#00ff95 19.4%,#00ff92 22.6%,#00ff8f 25.8%,#00ff8c 29%,#00ff89 32.3%,#00ff86 35.5%,#00ff82 38.7%,#00ff7e 41.9%,#00ff7a 45.2%,#00ff76 48.4%,#00ff71 51.6%,#00ff6b 54.8%,#1fff65 58.1%,#57ff5e 61.3%,#6dff56 64.5%,#a6ff4d 67.7%,#dcff41 71%,#eeff31 74.2%,#fffe16 77.4%,#fff900 80.6%,#fff400 83.9%,#fff000 87.1%,#ffe900 90.3%,#ffdd00 93.5%,#ffd200 96.8%,#ffc800 100%)"></div><div style="top:112px;left:363px;width:124.5px;height:1px;background:linear-gradient(90deg,#00ffa3 0%,#00ffa1 3.1%,#00ff9f 6.2%,#00ff9d 9.4%,#00ff9b 12.5%,#00ff99 15.6%,#00ff97 18.8%,#00ff94 21.9%,#00ff92 25%,#00ff8f 28.1%,#00ff8c 31.2%,#00ff89 34.4%,#00ff85 37.5%,#00ff82 40.6%,#00ff7e 43.8%,#00ff7a 46.9%,#00ff75 50%,#00ff70 53.1%,#00ff6b 56.2%,#4aff64 59.4%,#65ff5d 62.5%,#8dff55 65.6%,#c6ff4c 68.8%,#e5ff40 71.9%,#f7ff2f 75%,#fffb12 78.1%,#fff600 81.2%,#fff200 84.4%,#ffee00 87.5%,#ffe200 90.6%,#ffd700 93.8%,#ffcd00 96.9%,#ffc300 100%)"></div><div style="top:113px;left:363.5px;width:125px;height:1px;background:linear-gradient(90deg,#00ffa5 0%,#00ffa3 3.1%,#00ffa1 6.2%,#00ff9f 9.4%,#00ff9d 12.5%,#00ff9b 15.6%,#00ff98 18.8%,#00ff96 21.9%,#00ff93 25%,#00ff90 28.1%,#00ff8e 31.2%,#00ff8a 34.4%,#00ff87 37.5%,#00ff84 40.6%,#00ff80 43.8%,#00ff7b 46.9%,#00ff77 50%,#00ff72 53.1%,#1dff6c 56.2%,#57ff66 59.4%,#6bff5f 62.5%,#9cff57 65.6%,#d4ff4e 68.8%,#eaff42 71.9%,#fbff32 75%,#fffa17 78.1%,#fff400 81.2%,#fff000 84.4%,#ffe900 87.5%,#ffdd00 90.6%,#ffd200 93.8%,#ffc800 96.9%,#ffbf00 100%)"></div><div style="top:114px;left:363.5px;width:125.5px;height:1px;background:linear-gradient(90deg,#00ffa6 0%,#00ffa4 3.1%,#00ffa3 6.2%,#00ffa1 9.4%,#00ff9f 12.5%,#00ff9c 15.6%,#00ff9a 18.8%,#00ff98 21.9%,#00ff95 25%,#00ff92 28.1%,#00ff90 31.2%,#00ff8c 34.4%,#00ff89 37.5%,#00ff86 40.6%,#00ff82 43.8%,#00ff7e 46.9%,#00ff79 50%,#00ff74 53.1%,#2eff6f 56.2%,#5eff69 59.4%,#6fff62 62.5%,#a4ff5a 65.6%,#dcff51 68.8%,#edff46 71.9%,#feff37 75%,#fff920 78.1%,#fff300 81.2%,#ffef00 84.4%,#ffe500 87.5%,#ffd900 90.6%,#ffce00 93.8%,#ffc400 96.9%,#ffbb00 100%)"></div><div style="top:115px;left:363.5px;width:126.5px;height:1px;background:linear-gradient(90deg,#00ffa8 0%,#00ffa6 3.1%,#00ffa4 6.2%,#00ffa2 9.4%,#00ffa0 12.5%,#00ff9e 15.6%,#00ff9c 18.8%,#00ff9a 21.9%,#00ff97 25%,#00ff94 28.1%,#00ff91 31.2%,#00ff8e 34.4%,#00ff8b 37.5%,#00ff88 40.6%,#00ff84 43.8%,#00ff80 46.9%,#00ff7b 50%,#00ff76 53.1%,#3eff71 56.2%,#67ff6b 59.4%,#7bff64 62.5%,#b1ff5d 65.6%,#e1ff53 68.8%,#f2ff48 71.9%,#fffe3a 75%,#fff824 78.1%,#fff200 81.2%,#ffec00 84.4%,#ffdf00 87.5%,#ffd400 90.6%,#ffc900 93.8%,#ffc000 96.9%,#ffb700 100%)"></div><div style="top:116px;left:363.5px;width:127.5px;height:1px;background:linear-gradient(90deg,#00ffaa 0%,#00ffa8 3.1%,#00ffa6 6.2%,#00ffa4 9.4%,#00ffa2 12.5%,#00ffa0 15.6%,#00ff9e 18.8%,#00ff9b 21.9%,#00ff99 25%,#00ff96 28.1%,#00ff93 31.2%,#00ff90 34.4%,#00ff8d 37.5%,#00ff8a 40.6%,#00ff86 43.8%,#00ff82 46.9%,#00ff7d 50%,#00ff79 53.1%,#4bff73 56.2%,#6eff6d 59.4%,#88ff67 62.5%,#beff5f 65.6%,#e5ff56 68.8%,#f6ff4b 71.9%,#fffc3d 75%,#fff728 78.1%,#fff000 81.2%,#ffe600 84.4%,#ffda00 87.5%,#ffcf00 90.6%,#ffc400 93.8%,#ffbb00 96.9%,#ffb300 100%)"></div><div style="top:117px;left:363.5px;width:128.5px;height:1px;background:linear-gradient(90deg,#00ffab 0%,#00ffaa 3%,#00ffa8 6.1%,#00ffa6 9.1%,#00ffa4 12.1%,#00ffa2 15.2%,#00ffa0 18.2%,#00ff9e 21.2%,#00ff9b 24.2%,#00ff99 27.3%,#00ff96 30.3%,#00ff93 33.3%,#00ff90 36.4%,#00ff8d 39.4%,#00ff8a 42.4%,#00ff86 45.5%,#00ff82 48.5%,#00ff7d 51.5%,#3bff78 54.5%,#66ff73 57.6%,#78ff6d 60.6%,#a7ff66 63.6%,#ddff5e 66.7%,#efff55 69.7%,#ffff4a 72.7%,#fffa3c 75.8%,#fff426 78.8%,#ffec00 81.8%,#ffdf00 84.8%,#ffd300 87.9%,#ffc900 90.9%,#ffbf00 93.9%,#ffb700 97%,#ffae00 100%)"></div><div style="top:118px;left:364px;width:129px;height:1px;background:linear-gradient(90deg,#00ffad 0%,#00ffab 3%,#00ffa9 6.1%,#00ffa8 9.1%,#00ffa6 12.1%,#00ffa4 15.2%,#00ffa2 18.2%,#00ff9f 21.2%,#00ff9d 24.2%,#00ff9b 27.3%,#00ff98 30.3%,#00ff95 33.3%,#00ff92 36.4%,#00ff8f 39.4%,#00ff8b 42.4%,#00ff88 45.5%,#00ff84 48.5%,#00ff7f 51.5%,#4bff7a 54.5%,#70ff75 57.6%,#82ff6f 60.6%,#b6ff68 63.6%,#e3ff61 66.7%,#f4ff57 69.7%,#fffd4d 72.7%,#fff83e 75.8%,#fff22a 78.8%,#ffe600 81.8%,#ffd900 84.8%,#ffce00 87.9%,#ffc400 90.9%,#ffbb00 93.9%,#ffb200 97%,#ffaa00 100%)"></div><div style="top:119px;left:364px;width:130px;height:1px;background:linear-gradient(90deg,#00ffaf 0%,#00ffad 3%,#00ffab 6.1%,#00ffa9 9.1%,#00ffa8 12.1%,#00ffa6 15.2%,#00ffa3 18.2%,#00ffa1 21.2%,#00ff9f 24.2%,#00ff9c 27.3%,#00ff9a 30.3%,#00ff97 33.3%,#00ff94 36.4%,#00ff91 39.4%,#00ff8d 42.4%,#00ff8a 45.5%,#00ff86 48.5%,#0fff81 51.5%,#56ff7d 54.5%,#78ff77 57.6%,#8fff71 60.6%,#c3ff6b 63.6%,#e8ff63 66.7%,#f8ff5a 69.7%,#fffc4f 72.7%,#fff741 75.8%,#fff12e 78.8%,#ffe000 81.8%,#ffd400 84.8%,#ffc900 87.9%,#ffbf00 90.9%,#ffb600 93.9%,#ffae00 97%,#ffa600 100%)"></div><div style="top:120px;left:364px;width:131px;height:1px;background:linear-gradient(90deg,#00ffb0 0%,#00ffaf 3%,#00ffad 6.1%,#00ffab 9.1%,#00ffa9 12.1%,#00ffa7 15.2%,#00ffa5 18.2%,#00ffa3 21.2%,#00ffa1 24.2%,#00ff9e 27.3%,#00ff9c 30.3%,#00ff99 33.3%,#00ff96 36.4%,#00ff93 39.4%,#00ff90 42.4%,#00ff8c 45.5%,#00ff88 48.5%,#2cff84 51.5%,#60ff7f 54.5%,#7dff79 57.6%,#9bff74 60.6%,#cfff6d 63.6%,#edff65 66.7%,#fdff5d 69.7%,#fffa52 72.7%,#fff544 75.8%,#ffeb30 78.8%,#ffdb06 81.8%,#ffcf00 84.8%,#ffc400 87.9%,#ffbb00 90.9%,#ffb200 93.9%,#ffaa00 97%,#ffa200 100%)"></div><div style="top:121px;left:364px;width:132px;height:1px;background:linear-gradient(90deg,#00ffb2 0%,#00ffb0 3%,#00ffaf 6.1%,#00ffad 9.1%,#00ffab 12.1%,#00ffa9 15.2%,#00ffa7 18.2%,#00ffa5 21.2%,#00ffa3 24.2%,#00ffa0 27.3%,#00ff9e 30.3%,#00ff9b 33.3%,#00ff98 36.4%,#00ff95 39.4%,#00ff92 42.4%,#00ff8e 45.5%,#00ff8a 48.5%,#3dff86 51.5%,#69ff81 54.5%,#81ff7c 57.6%,#a6ff76 60.6%,#dcff6f 63.6%,#f1ff68 66.7%,#fffe5f 69.7%,#fff955 72.7%,#fff447 75.8%,#ffe632 78.8%,#ffd60f 81.8%,#ffca00 84.8%,#ffc000 87.9%,#ffb600 90.9%,#ffae00 93.9%,#ffa600 97%,#ff9e00 100%)"></div><div style="top:122px;left:364.5px;width:132.5px;height:1px;background:linear-gradient(90deg,#00ffb4 0%,#00ffb2 2.9%,#00ffb1 5.9%,#00ffaf 8.8%,#00ffad 11.8%,#00ffab 14.7%,#00ffa9 17.6%,#00ffa7 20.6%,#00ffa5 23.5%,#00ffa3 26.5%,#00ffa0 29.4%,#00ff9e 32.4%,#00ff9b 35.3%,#00ff98 38.2%,#00ff95 41.2%,#00ff92 44.1%,#00ff8e 47.1%,#2fff8a 50%,#62ff86 52.9%,#81ff81 55.9%,#97ff7c 58.8%,#caff76 61.8%,#ebff6f 64.7%,#fcff67 67.6%,#fffb5f 70.6%,#fff654 73.5%,#ffeb44 76.5%,#ffdd2e 79.4%,#ffcf08 82.4%,#ffc300 85.3%,#ffba00 88.2%,#ffb100 91.2%,#ffa900 94.1%,#ffa100 97.1%,#ff9a00 100%)"></div><div style="top:123px;left:364.5px;width:133.5px;height:1px;background:linear-gradient(90deg,#00ffb5 0%,#00ffb4 2.9%,#00ffb2 5.9%,#00ffb1 8.8%,#00ffaf 11.8%,#00ffad 14.7%,#00ffab 17.6%,#00ffa9 20.6%,#00ffa7 23.5%,#00ffa5 26.5%,#00ffa3 29.4%,#00ffa0 32.4%,#00ff9d 35.3%,#00ff9a 38.2%,#00ff97 41.2%,#00ff94 44.1%,#00ff90 47.1%,#3fff8c 50%,#6bff88 52.9%,#86ff83 55.9%,#a2ff7e 58.8%,#d6ff78 61.8%,#f0ff72 64.7%,#ffff6a 67.6%,#fff961 70.6%,#fff457 73.5%,#ffe645 76.5%,#ffd830 79.4%,#ffca10 82.4%,#ffbf00 85.3%,#ffb500 88.2%,#ffad00 91.2%,#ffa500 94.1%,#ff9d00 97.1%,#ff9600 100%)"></div><div style="top:124px;left:364.5px;width:134px;height:1px;background:linear-gradient(90deg,#00ffb7 0%,#00ffb6 2.9%,#00ffb4 5.9%,#00ffb3 8.8%,#00ffb1 11.8%,#00ffaf 14.7%,#00ffad 17.6%,#00ffab 20.6%,#00ffa9 23.5%,#00ffa7 26.5%,#00ffa5 29.4%,#00ffa2 32.4%,#00ffa0 35.3%,#00ff9d 38.2%,#00ff9a 41.2%,#00ff96 44.1%,#00ff93 47.1%,#49ff8f 50%,#71ff8b 52.9%,#8aff86 55.9%,#aaff81 58.8%,#deff7b 61.8%,#f3ff75 64.7%,#fffe6d 67.6%,#fff865 70.6%,#fff159 73.5%,#ffe248 76.5%,#ffd434 79.4%,#ffc719 82.4%,#ffbb00 85.3%,#ffb200 88.2%,#ffa900 91.2%,#ffa200 94.1%,#ff9a00 97.1%,#ff9300 100%)"></div><div style="top:125px;left:365px;width:134.5px;height:1px;background:linear-gradient(90deg,#00ffb9 0%,#00ffb7 2.9%,#00ffb6 5.9%,#00ffb4 8.8%,#00ffb3 11.8%,#00ffb1 14.7%,#00ffaf 17.6%,#00ffad 20.6%,#00ffab 23.5%,#00ffa9 26.5%,#00ffa7 29.4%,#00ffa4 32.4%,#00ffa1 35.3%,#00ff9f 38.2%,#00ff9c 41.2%,#00ff98 44.1%,#01ff95 47.1%,#58ff91 50%,#7bff8d 52.9%,#8fff88 55.9%,#b8ff83 58.8%,#e8ff7d 61.8%,#f9ff77 64.7%,#fffc70 67.6%,#fff767 70.6%,#ffeb59 73.5%,#ffdc48 76.5%,#ffcf35 79.4%,#ffc21c 82.4%,#ffb600 85.3%,#ffad00 88.2%,#ffa500 91.2%,#ff9d00 94.1%,#ff9600 97.1%,#ff8f00 100%)"></div><div style="top:126px;left:365px;width:135.5px;height:1px;background:linear-gradient(90deg,#00ffbb 0%,#00ffb9 2.9%,#00ffb8 5.9%,#00ffb6 8.8%,#00ffb5 11.8%,#00ffb3 14.7%,#00ffb1 17.6%,#00ffaf 20.6%,#00ffad 23.5%,#00ffab 26.5%,#00ffa9 29.4%,#00ffa6 32.4%,#00ffa4 35.3%,#00ffa1 38.2%,#00ff9e 41.2%,#00ff9b 44.1%,#28ff97 47.1%,#62ff93 50%,#83ff8f 52.9%,#94ff8b 55.9%,#c5ff86 58.8%,#ecff80 61.8%,#fdff7a 64.7%,#fffa72 67.6%,#fff56a 70.6%,#ffe559 73.5%,#ffd749 76.5%,#ffca36 79.4%,#ffbe1f 82.4%,#ffb200 85.3%,#ffa900 88.2%,#ffa100 91.2%,#ff9900 94.1%,#ff9200 97.1%,#ff8b00 100%)"></div><div style="top:127px;left:365.5px;width:136px;height:1px;background:linear-gradient(90deg,#00ffbc 0%,#00ffbb 2.9%,#00ffba 5.9%,#00ffb8 8.8%,#00ffb6 11.8%,#00ffb5 14.7%,#00ffb3 17.6%,#00ffb1 20.6%,#00ffaf 23.5%,#00ffad 26.5%,#00ffab 29.4%,#00ffa8 32.4%,#00ffa6 35.3%,#00ffa3 38.2%,#00ffa0 41.2%,#00ff9d 44.1%,#3fff99 47.1%,#6dff96 50%,#8cff91 52.9%,#a1ff8d 55.9%,#d4ff88 58.8%,#f2ff82 61.8%,#fffe7c 64.7%,#fff975 67.6%,#ffee69 70.6%,#ffdf59 73.5%,#ffd149 76.5%,#ffc537 79.4%,#ffb921 82.4%,#ffad00 85.3%,#ffa500 88.2%,#ff9d00 91.2%,#ff9500 94.1%,#ff8e00 97.1%,#ff8800 100%)"></div><div style="top:128px;left:365.5px;width:137px;height:1px;background:linear-gradient(90deg,#00ffbe 0%,#00ffbd 2.9%,#00ffbc 5.7%,#00ffba 8.6%,#00ffb9 11.4%,#00ffb7 14.3%,#00ffb5 17.1%,#00ffb4 20%,#00ffb2 22.9%,#00ffb0 25.7%,#00ffae 28.6%,#00ffab 31.4%,#00ffa9 34.3%,#00ffa6 37.1%,#00ffa4 40%,#00ffa1 42.9%,#2eff9d 45.7%,#64ff9a 48.6%,#85ff96 51.4%,#98ff92 54.3%,#c2ff8d 57.1%,#ecff88 60%,#fdff83 62.9%,#fffa7c 65.7%,#fff474 68.6%,#ffe465 71.4%,#ffd655 74.3%,#ffc946 77.1%,#ffbe35 80%,#ffb31f 82.9%,#ffa800 85.7%,#ffa000 88.6%,#ff9800 91.4%,#ff9100 94.3%,#ff8a00 97.1%,#ff8400 100%)"></div><div style="top:129px;left:365.5px;width:138px;height:1px;background:linear-gradient(90deg,#00ffc0 0%,#00ffbf 2.9%,#00ffbe 5.7%,#00ffbc 8.6%,#00ffbb 11.4%,#00ffb9 14.3%,#00ffb7 17.1%,#00ffb6 20%,#00ffb4 22.9%,#00ffb2 25.7%,#00ffb0 28.6%,#00ffae 31.4%,#00ffab 34.3%,#00ffa9 37.1%,#00ffa6 40%,#00ffa3 42.9%,#3fffa0 45.7%,#6dff9c 48.6%,#8cff99 51.4%,#9dff95 54.3%,#ceff90 57.1%,#f1ff8b 60%,#fffe86 62.9%,#fff97f 65.7%,#ffee74 68.6%,#ffde65 71.4%,#ffd156 74.3%,#ffc447 77.1%,#ffb936 80%,#ffae21 82.9%,#ffa300 85.7%,#ff9b00 88.6%,#ff9400 91.4%,#ff8d00 94.3%,#ff8600 97.1%,#ff8000 100%)"></div><div style="top:130px;left:366px;width:138.5px;height:1px;background:linear-gradient(90deg,#00ffc2 0%,#00ffc1 2.9%,#00ffbf 5.7%,#00ffbe 8.6%,#00ffbd 11.4%,#00ffbb 14.3%,#00ffb9 17.1%,#00ffb8 20%,#00ffb6 22.9%,#00ffb4 25.7%,#00ffb2 28.6%,#00ffb0 31.4%,#00ffad 34.3%,#00ffab 37.1%,#00ffa8 40%,#00ffa5 42.9%,#50ffa2 45.7%,#78ff9f 48.6%,#95ff9b 51.4%,#aaff97 54.3%,#deff93 57.1%,#f6ff8e 60%,#fffc88 62.9%,#fff782 65.7%,#ffe773 68.6%,#ffd864 71.4%,#ffcb56 74.3%,#ffbf47 77.1%,#ffb437 80%,#ffaa23 82.9%,#ff9f00 85.7%,#ff9700 88.6%,#ff9000 91.4%,#ff8900 94.3%,#ff8200 97.1%,#ff7c00 100%)"></div><div style="top:131px;left:366px;width:139.5px;height:1px;background:linear-gradient(90deg,#00ffc4 0%,#00ffc3 2.9%,#00ffc1 5.7%,#00ffc0 8.6%,#00ffbf 11.4%,#00ffbd 14.3%,#00ffbc 17.1%,#00ffba 20%,#00ffb8 22.9%,#00ffb6 25.7%,#00ffb4 28.6%,#00ffb2 31.4%,#00ffb0 34.3%,#00ffad 37.1%,#00ffab 40%,#00ffa8 42.9%,#5bffa5 45.7%,#80ffa1 48.6%,#9cff9e 51.4%,#b6ff9a 54.3%,#eaff95 57.1%,#fbff91 60%,#fffb8b 62.9%,#fff282 65.7%,#ffe173 68.6%,#ffd364 71.4%,#ffc656 74.3%,#ffbb47 77.1%,#ffb038 80%,#ffa625 82.9%,#ff9b00 85.7%,#ff9300 88.6%,#ff8c00 91.4%,#ff8500 94.3%,#ff7e00 97.1%,#ff7800 100%)"></div><div style="top:132px;left:366px;width:140.5px;height:1px;background:linear-gradient(90deg,#00ffc6 0%,#00ffc5 2.8%,#00ffc3 5.6%,#00ffc2 8.3%,#00ffc1 11.1%,#00ffbf 13.9%,#00ffbe 16.7%,#00ffbc 19.4%,#00ffbb 22.2%,#00ffb9 25%,#00ffb7 27.8%,#00ffb5 30.6%,#00ffb3 33.3%,#00ffb1 36.1%,#00ffae 38.9%,#00ffac 41.7%,#50ffa9 44.4%,#79ffa6 47.2%,#96ffa2 50%,#a7ff9f 52.8%,#d9ff9b 55.6%,#f6ff96 58.3%,#fffd91 61.1%,#fff78c 63.9%,#ffe67c 66.7%,#ffd76e 69.4%,#ffca60 72.2%,#ffbe53 75%,#ffb445 77.8%,#ffaa36 80.6%,#ffa023 83.3%,#ff9600 86.1%,#ff8e00 88.9%,#ff8700 91.7%,#ff8100 94.4%,#ff7a00 97.2%,#ff7400 100%)"></div><div style="top:133px;left:366.5px;width:141px;height:1px;background:linear-gradient(90deg,#00ffc8 0%,#00ffc7 2.8%,#00ffc5 5.6%,#00ffc4 8.3%,#00ffc3 11.1%,#00ffc1 13.9%,#00ffc0 16.7%,#00ffbe 19.4%,#00ffbd 22.2%,#00ffbb 25%,#00ffb9 27.8%,#00ffb7 30.6%,#00ffb5 33.3%,#00ffb3 36.1%,#00ffb1 38.9%,#14ffae 41.7%,#5fffab 44.4%,#83ffa8 47.2%,#9fffa5 50%,#b5ffa1 52.8%,#e8ff9d 55.6%,#fcff99 58.3%,#fffb94 61.1%,#fff08a 63.9%,#ffe07b 66.7%,#ffd16d 69.4%,#ffc560 72.2%,#ffb953 75%,#ffaf45 77.8%,#ffa536 80.6%,#ff9c24 83.3%,#ff9203 86.1%,#ff8a00 88.9%,#ff8300 91.7%,#ff7d00 94.4%,#ff7600 97.2%,#ff7000 100%)"></div><div style="top:134px;left:366.5px;width:142px;height:1px;background:linear-gradient(90deg,#00ffca 0%,#00ffc9 2.8%,#00ffc7 5.6%,#00ffc6 8.3%,#00ffc5 11.1%,#00ffc4 13.9%,#00ffc2 16.7%,#00ffc1 19.4%,#00ffbf 22.2%,#00ffbd 25%,#00ffbc 27.8%,#00ffba 30.6%,#00ffb8 33.3%,#00ffb5 36.1%,#00ffb3 38.9%,#30ffb1 41.7%,#68ffae 44.4%,#8bffab 47.2%,#a6ffa8 50%,#c1ffa4 52.8%,#efffa0 55.6%,#ffff9c 58.3%,#fff997 61.1%,#ffea89 63.9%,#ffda7b 66.7%,#ffcc6d 69.4%,#ffc060 72.2%,#ffb553 75%,#ffaa46 77.8%,#ffa137 80.6%,#ff9826 83.3%,#ff8e09 86.1%,#ff8600 88.9%,#ff7f00 91.7%,#ff7900 94.4%,#ff7200 97.2%,#ff6c00 100%)"></div><div style="top:135px;left:366.5px;width:142.5px;height:1px;background:linear-gradient(90deg,#00ffcc 0%,#00ffcb 2.8%,#00ffca 5.6%,#00ffc8 8.3%,#00ffc7 11.1%,#00ffc6 13.9%,#00ffc5 16.7%,#00ffc3 19.4%,#00ffc2 22.2%,#00ffc0 25%,#00ffbe 27.8%,#00ffbc 30.6%,#00ffba 33.3%,#00ffb8 36.1%,#00ffb6 38.9%,#3dffb3 41.7%,#6fffb1 44.4%,#90ffae 47.2%,#abffab 50%,#c9ffa7 52.8%,#f3ffa4 55.6%,#fffda0 58.3%,#fff69a 61.1%,#ffe58a 63.9%,#ffd67b 66.7%,#ffc86e 69.4%,#ffbc61 72.2%,#ffb155 75%,#ffa748 77.8%,#ff9e3a 80.6%,#ff942a 83.3%,#ff8b12 86.1%,#ff8300 88.9%,#ff7c00 91.7%,#ff7500 94.4%,#ff6f00 97.2%,#ff6900 100%)"></div><div style="top:136px;left:367px;width:143px;height:1px;background:linear-gradient(90deg,#00ffce 0%,#00ffcd 2.8%,#00ffcc 5.6%,#00ffca 8.3%,#00ffc9 11.1%,#00ffc8 13.9%,#00ffc7 16.7%,#00ffc5 19.4%,#00ffc4 22.2%,#00ffc2 25%,#00ffc0 27.8%,#00ffbf 30.6%,#00ffbd 33.3%,#00ffbb 36.1%,#00ffb8 38.9%,#50ffb6 41.7%,#7bffb3 44.4%,#9affb1 47.2%,#b1ffae 50%,#d8ffaa 52.8%,#f8ffa7 55.6%,#fffba2 58.3%,#ffef98 61.1%,#ffde88 63.9%,#ffd07a 66.7%,#ffc36d 69.4%,#ffb761 72.2%,#ffac54 75%,#ffa248 77.8%,#ff993a 80.6%,#ff902b 83.3%,#ff8714 86.1%,#ff7f00 88.9%,#ff7800 91.7%,#ff7100 94.4%,#ff6b00 97.2%,#ff6500 100%)"></div><div style="top:137px;left:367px;width:144px;height:1px;background:linear-gradient(90deg,#00ffd0 0%,#00ffcf 2.8%,#00ffce 5.6%,#00ffcd 8.3%,#00ffcb 11.1%,#00ffca 13.9%,#00ffc9 16.7%,#00ffc8 19.4%,#00ffc6 22.2%,#00ffc5 25%,#00ffc3 27.8%,#00ffc1 30.6%,#00ffbf 33.3%,#00ffbd 36.1%,#00ffbb 38.9%,#5bffb9 41.7%,#83ffb6 44.4%,#a1ffb4 47.2%,#b6ffb1 50%,#e5ffad 52.8%,#fdffaa 55.6%,#fffaa6 58.3%,#ffe997 61.1%,#ffd988 63.9%,#ffca7a 66.7%,#ffbe6d 69.4%,#ffb261 72.2%,#ffa855 75%,#ff9e48 77.8%,#ff953b 80.6%,#ff8c2c 83.3%,#ff8317 86.1%,#ff7b00 88.9%,#ff7400 91.7%,#ff6d00 94.4%,#ff6700 97.2%,#ff6100 100%)"></div><div style="top:138px;left:367px;width:145px;height:1px;background:linear-gradient(90deg,#00ffd2 0%,#00ffd1 2.7%,#00ffd0 5.4%,#00ffcf 8.1%,#00ffce 10.8%,#00ffcd 13.5%,#00ffcc 16.2%,#00ffca 18.9%,#00ffc9 21.6%,#00ffc8 24.3%,#00ffc6 27%,#00ffc4 29.7%,#00ffc3 32.4%,#00ffc1 35.1%,#00ffbf 37.8%,#51ffbd 40.5%,#7cffba 43.2%,#9bffb8 45.9%,#b5ffb5 48.6%,#d5ffb2 51.4%,#f9ffaf 54.1%,#fffbab 56.8%,#ffed9f 59.5%,#ffdd90 62.2%,#ffce82 64.9%,#ffc175 67.6%,#ffb669 70.3%,#ffab5e 73%,#ffa152 75.7%,#ff9846 78.4%,#ff8f39 81.1%,#ff872b 83.8%,#ff7e16 86.5%,#ff7600 89.2%,#ff6f00 91.9%,#ff6900 94.6%,#ff6300 97.3%,#ff5c00 100%)"></div><div style="top:139px;left:367.5px;width:145.5px;height:1px;background:linear-gradient(90deg,#00ffd4 0%,#00ffd3 2.7%,#00ffd2 5.4%,#00ffd1 8.1%,#00ffd0 10.8%,#00ffcf 13.5%,#00ffce 16.2%,#00ffcd 18.9%,#00ffcb 21.6%,#00ffca 24.3%,#00ffc9 27%,#00ffc7 29.7%,#00ffc5 32.4%,#00ffc4 35.1%,#04ffc2 37.8%,#60ffc0 40.5%,#87ffbd 43.2%,#a5ffbb 45.9%,#bbffb8 48.6%,#e6ffb5 51.4%,#ffffb2 54.1%,#fff9ae 56.8%,#ffe69d 59.5%,#ffd68f 62.2%,#ffc881 64.9%,#ffbc75 67.6%,#ffb069 70.3%,#ffa65d 73%,#ff9c52 75.7%,#ff9346 78.4%,#ff8b3a 81.1%,#ff822b 83.8%,#ff7a18 86.5%,#ff7200 89.2%,#ff6b00 91.9%,#ff6500 94.6%,#ff5e00 97.3%,#ff5800 100%)"></div><div style="top:140px;left:367.5px;width:146.5px;height:1px;background:linear-gradient(90deg,#00ffd6 0%,#00ffd5 2.7%,#00ffd4 5.4%,#00ffd3 8.1%,#00ffd2 10.8%,#00ffd1 13.5%,#00ffd0 16.2%,#00ffcf 18.9%,#00ffce 21.6%,#00ffcd 24.3%,#00ffcb 27%,#00ffca 29.7%,#00ffc8 32.4%,#00ffc6 35.1%,#2bffc5 37.8%,#6affc3 40.5%,#8fffc0 43.2%,#acffbe 45.9%,#c0ffbc 48.6%,#f1ffb9 51.4%,#fffdb6 54.1%,#fff2ac 56.8%,#ffe09c 59.5%,#ffd18e 62.2%,#ffc381 64.9%,#ffb774 67.6%,#ffac69 70.3%,#ffa25e 73%,#ff9852 75.7%,#ff8f47 78.4%,#ff873b 81.1%,#ff7e2d 83.8%,#ff761a 86.5%,#ff6e00 89.2%,#ff6700 91.9%,#ff6000 94.6%,#ff5a00 97.3%,#ff5400 100%)"></div><div style="top:141px;left:367.5px;width:147.5px;height:1px;background:linear-gradient(90deg,#00ffd8 0%,#00ffd7 2.7%,#00ffd7 5.4%,#00ffd6 8.1%,#00ffd5 10.8%,#00ffd4 13.5%,#00ffd3 16.2%,#00ffd2 18.9%,#00ffd0 21.6%,#00ffcf 24.3%,#00ffce 27%,#00ffcc 29.7%,#00ffcb 32.4%,#00ffc9 35.1%,#3effc8 37.8%,#74ffc6 40.5%,#97ffc4 43.2%,#b3ffc1 45.9%,#caffbf 48.6%,#f6ffbc 51.4%,#fffcb9 54.1%,#ffebab 56.8%,#ffda9b 59.5%,#ffcb8d 62.2%,#ffbe80 64.9%,#ffb274 67.6%,#ffa769 70.3%,#ff9d5e 73%,#ff9453 75.7%,#ff8b47 78.4%,#ff823b 81.1%,#ff7a2e 83.8%,#ff721c 86.5%,#ff6900 89.2%,#ff6300 91.9%,#ff5c00 94.6%,#ff5600 97.3%,#ff4f00 100%)"></div><div style="top:142px;left:368px;width:148px;height:1px;background:linear-gradient(90deg,#00ffda 0%,#00ffda 2.7%,#00ffd9 5.4%,#00ffd8 8.1%,#00ffd7 10.8%,#00ffd6 13.5%,#00ffd5 16.2%,#00ffd4 18.9%,#00ffd3 21.6%,#00ffd2 24.3%,#00ffd1 27%,#00ffcf 29.7%,#00ffce 32.4%,#00ffcc 35.1%,#52ffcb 37.8%,#80ffc9 40.5%,#a0ffc7 43.2%,#bcffc5 45.9%,#d9ffc2 48.6%,#fdffc0 51.4%,#fff7ba 54.1%,#ffe4a9 56.8%,#ffd499 59.5%,#ffc58c 62.2%,#ffb87f 64.9%,#ffad73 67.6%,#ffa268 70.3%,#ff985d 73%,#ff8f53 75.7%,#ff8647 78.4%,#ff7e3c 81.1%,#ff762e 83.8%,#ff6e1e 86.5%,#ff6500 89.2%,#ff5e00 91.9%,#ff5800 94.6%,#ff5100 97.3%,#ff4a00 100%)"></div><div style="top:143px;left:368px;width:149px;height:1px;background:linear-gradient(90deg,#00ffdd 0%,#00ffdc 2.6%,#00ffdb 5.3%,#00ffda 7.9%,#00ffda 10.5%,#00ffd9 13.2%,#00ffd8 15.8%,#00ffd7 18.4%,#00ffd6 21.1%,#00ffd5 23.7%,#00ffd4 26.3%,#00ffd3 28.9%,#00ffd1 31.6%,#00ffd0 34.2%,#47ffce 36.8%,#79ffcd 39.5%,#9bffcb 42.1%,#b8ffc9 44.7%,#ccffc7 47.4%,#f8ffc5 50%,#fffbc2 52.6%,#ffe8b1 55.3%,#ffd7a1 57.9%,#ffc893 60.5%,#ffbb86 63.2%,#ffaf7b 65.8%,#ffa570 68.4%,#ff9b65 71.1%,#ff925b 73.7%,#ff8950 76.3%,#ff8046 78.9%,#ff783a 81.6%,#ff702d 84.2%,#ff681d 86.8%,#ff6000 89.5%,#ff5900 92.1%,#ff5300 94.7%,#ff4c00 97.4%,#ff4500 100%)"></div><div style="top:144px;left:368.5px;width:149.5px;height:1px;background:linear-gradient(90deg,#00ffdf 0%,#00ffde 2.6%,#00ffde 5.3%,#00ffdd 7.9%,#00ffdc 10.5%,#00ffdb 13.2%,#00ffda 15.8%,#00ffda 18.4%,#00ffd9 21.1%,#00ffd8 23.7%,#00ffd7 26.3%,#00ffd5 28.9%,#00ffd4 31.6%,#00ffd3 34.2%,#59ffd1 36.8%,#85ffd0 39.5%,#a5ffce 42.1%,#c1ffcc 44.7%,#dcffca 47.4%,#ffffc8 50%,#fff3c0 52.6%,#ffe1ae 55.3%,#ffd09f 57.9%,#ffc292 60.5%,#ffb685 63.2%,#ffaa7a 65.8%,#ffa06f 68.4%,#ff9665 71.1%,#ff8d5a 73.7%,#ff8450 76.3%,#ff7c46 78.9%,#ff743a 81.6%,#ff6c2e 84.2%,#ff641e 86.8%,#ff5b00 89.5%,#ff5400 92.1%,#ff4e00 94.7%,#ff4700 97.4%,#ff4000 100%)"></div><div style="top:145px;left:368.5px;width:150.5px;height:1px;background:linear-gradient(90deg,#00ffe1 0%,#00ffe1 2.6%,#00ffe0 5.3%,#00ffdf 7.9%,#00ffdf 10.5%,#00ffde 13.2%,#00ffdd 15.8%,#00ffdc 18.4%,#00ffdb 21.1%,#00ffda 23.7%,#00ffda 26.3%,#00ffd8 28.9%,#00ffd7 31.6%,#00ffd6 34.2%,#64ffd5 36.8%,#8dffd3 39.5%,#adffd2 42.1%,#c8ffd0 44.7%,#e8ffce 47.4%,#fffdcc 50%,#ffedbe 52.6%,#ffdaad 55.3%,#ffcb9e 57.9%,#ffbd91 60.5%,#ffb185 63.2%,#ffa57a 65.8%,#ff9b6f 68.4%,#ff9265 71.1%,#ff885b 73.7%,#ff8051 76.3%,#ff7846 78.9%,#ff703b 81.6%,#ff682f 84.2%,#ff601f 86.8%,#ff5704 89.5%,#ff5000 92.1%,#ff4900 94.7%,#ff4100 97.4%,#ff3a00 100%)"></div><div style="top:146px;left:368.5px;width:151px;height:1px;background:linear-gradient(90deg,#00ffe4 0%,#00ffe3 2.6%,#00ffe2 5.3%,#00ffe2 7.9%,#00ffe1 10.5%,#00ffe1 13.2%,#00ffe0 15.8%,#00ffdf 18.4%,#00ffde 21.1%,#00ffdd 23.7%,#00ffdd 26.3%,#00ffdc 28.9%,#00ffdb 31.6%,#23ffd9 34.2%,#6cffd8 36.8%,#94ffd7 39.5%,#b3ffd5 42.1%,#ceffd4 44.7%,#f2ffd2 47.4%,#fffcd0 50%,#ffe7bd 52.6%,#ffd6ad 55.3%,#ffc69e 57.9%,#ffb991 60.5%,#ffad85 63.2%,#ffa27a 65.8%,#ff9770 68.4%,#ff8e66 71.1%,#ff855c 73.7%,#ff7c52 76.3%,#ff7448 78.9%,#ff6c3d 81.6%,#ff6431 84.2%,#ff5c23 86.8%,#ff530c 89.5%,#ff4b00 92.1%,#ff4400 94.7%,#ff3d00 97.4%,#ff3400 100%)"></div><div style="top:147px;left:369px;width:151.5px;height:1px;background:linear-gradient(90deg,#00ffe6 0%,#00ffe5 2.6%,#00ffe5 5.3%,#00ffe4 7.9%,#00ffe4 10.5%,#00ffe3 13.2%,#00ffe3 15.8%,#00ffe2 18.4%,#00ffe1 21.1%,#00ffe0 23.7%,#00ffe0 26.3%,#00ffdf 28.9%,#00ffde 31.6%,#41ffdd 34.2%,#79ffdc 36.8%,#9effda 39.5%,#bcffd9 42.1%,#d7ffd8 44.7%,#fbffd6 47.4%,#fff4cd 50%,#ffe0bb 52.6%,#ffcfab 55.3%,#ffc09d 57.9%,#ffb390 60.5%,#ffa784 63.2%,#ff9c7a 65.8%,#ff926f 68.4%,#ff8965 71.1%,#ff805b 73.7%,#ff7852 76.3%,#ff6f48 78.9%,#ff673d 81.6%,#ff5f32 84.2%,#ff5724 86.8%,#ff4f0f 89.5%,#ff4600 92.1%,#ff3e00 94.7%,#ff3600 97.4%,#ff2d00 100%)"></div><div style="top:148px;left:369px;width:152.5px;height:1px;background:linear-gradient(90deg,#00ffe8 0%,#00ffe8 2.6%,#00ffe7 5.1%,#00ffe7 7.7%,#00ffe7 10.3%,#00ffe6 12.8%,#00ffe5 15.4%,#00ffe5 17.9%,#00ffe4 20.5%,#00ffe4 23.1%,#00ffe3 25.6%,#00ffe2 28.2%,#00ffe1 30.8%,#34ffe1 33.3%,#73ffe0 35.9%,#99ffdf 38.5%,#b8ffde 41%,#d3ffdc 43.6%,#f6ffdb 46.2%,#fff7d5 48.7%,#ffe3c2 51.3%,#ffd2b2 53.8%,#ffc3a3 56.4%,#ffb597 59%,#ffa98b 61.5%,#ff9f80 64.1%,#ff9476 66.7%,#ff8b6c 69.2%,#ff8262 71.8%,#ff7959 74.4%,#ff7150 76.9%,#ff6946 79.5%,#ff613c 82.1%,#ff5930 84.6%,#ff5123 87.2%,#ff480e 89.7%,#ff4000 92.3%,#ff3800 94.9%,#ff2f00 97.4%,#ff2500 100%)"></div><div style="top:149px;left:369px;width:153.5px;height:1px;background:linear-gradient(90deg,#00ffeb 0%,#00ffea 2.6%,#00ffea 5.1%,#00ffea 7.7%,#00ffe9 10.3%,#00ffe9 12.8%,#00ffe8 15.4%,#00ffe8 17.9%,#00ffe7 20.5%,#00ffe7 23.1%,#00ffe6 25.6%,#00ffe6 28.2%,#00ffe5 30.8%,#46ffe4 33.3%,#7dffe3 35.9%,#a1ffe2 38.5%,#c0ffe2 41%,#dbffe0 43.6%,#fdffdf 46.2%,#fff0d3 48.7%,#ffddc0 51.3%,#ffccb1 53.8%,#ffbda2 56.4%,#ffb096 59%,#ffa58a 61.5%,#ff9a80 64.1%,#ff9076 66.7%,#ff866c 69.2%,#ff7d63 71.8%,#ff7559 74.4%,#ff6d50 76.9%,#ff6546 79.5%,#ff5d3c 82.1%,#ff5431 84.6%,#ff4c24 87.2%,#ff4311 89.7%,#ff3a00 92.3%,#ff3100 94.9%,#ff2700 97.4%,#ff1b00 100%)"></div><div style="top:150px;left:369.5px;width:154px;height:1px;background:linear-gradient(90deg,#00ffed 0%,#00ffed 2.6%,#00ffed 5.1%,#00ffec 7.7%,#00ffec 10.3%,#00ffec 12.8%,#00ffeb 15.4%,#00ffeb 17.9%,#00ffea 20.5%,#00ffea 23.1%,#00ffe9 25.6%,#00ffe9 28.2%,#00ffe8 30.8%,#59ffe8 33.3%,#89ffe7 35.9%,#acffe6 38.5%,#caffe6 41%,#e4ffe5 43.6%,#fffee4 46.2%,#ffe8d0 48.7%,#ffd5be 51.3%,#ffc5ae 53.8%,#ffb7a1 56.4%,#ffab95 59%,#ff9f89 61.5%,#ff957f 64.1%,#ff8b75 66.7%,#ff816b 69.2%,#ff7962 71.8%,#ff7059 74.4%,#ff6850 76.9%,#ff6047 79.5%,#ff573d 82.1%,#ff4f32 84.6%,#ff4625 87.2%,#ff3d13 89.7%,#ff3300 92.3%,#ff2900 94.9%,#ff1d00 97.4%,#ff0a00 100%)"></div><div style="top:151px;left:369.5px;width:155px;height:1px;background:linear-gradient(90deg,#00fff0 0%,#00fff0 2.6%,#00ffef 5.1%,#00ffef 7.7%,#00ffef 10.3%,#00ffef 12.8%,#00ffee 15.4%,#00ffee 17.9%,#00ffee 20.5%,#00ffed 23.1%,#00ffed 25.6%,#00ffec 28.2%,#00ffec 30.8%,#65ffec 33.3%,#92ffeb 35.9%,#b4ffea 38.5%,#d1ffea 41%,#ebffe9 43.6%,#fff7e2 46.2%,#ffe1ce 48.7%,#ffcfbc 51.3%,#ffc0ad 53.8%,#ffb2a0 56.4%,#ffa594 59%,#ff9a89 61.5%,#ff907f 64.1%,#ff8675 66.7%,#ff7d6b 69.2%,#ff7462 71.8%,#ff6b59 74.4%,#ff6350 76.9%,#ff5b47 79.5%,#ff523d 82.1%,#ff4a32 84.6%,#ff4126 87.2%,#ff3715 89.7%,#ff2b00 92.3%,#ff2000 94.9%,#ff0e00 97.4%,#ff0000 100%)"></div><div style="top:152px;left:370px;width:155.5px;height:1px;background:linear-gradient(90deg,#00fff2 0%,#00fff2 2.6%,#00fff2 5.1%,#00fff2 7.7%,#00fff2 10.3%,#00fff2 12.8%,#00fff1 15.4%,#00fff1 17.9%,#00fff1 20.5%,#00fff1 23.1%,#00fff0 25.6%,#00fff0 28.2%,#2cfff0 30.8%,#74ffef 33.3%,#9dffef 35.9%,#beffef 38.5%,#dbffee 41%,#fbffee 43.6%,#ffeede 46.2%,#ffd9cb 48.7%,#ffc8ba 51.3%,#ffb9ab 53.8%,#ffac9f 56.4%,#ffa093 59%,#ff9588 61.5%,#ff8b7e 64.1%,#ff8174 66.7%,#ff786b 69.2%,#ff6f62 71.8%,#ff6659 74.4%,#ff5e50 76.9%,#ff5547 79.5%,#ff4d3d 82.1%,#ff4433 84.6%,#ff3a27 87.2%,#ff2f16 89.7%,#ff2200 92.3%,#ff1200 94.9%,#ff0000 97.4%,#ff0000 100%)"></div><div style="top:153px;left:370px;width:156.5px;height:1px;background:linear-gradient(90deg,#00fff5 0%,#00fff5 2.5%,#00fff5 5%,#00fff5 7.5%,#00fff5 10%,#00fff5 12.5%,#00fff5 15%,#00fff4 17.5%,#00fff4 20%,#00fff4 22.5%,#00fff4 25%,#00fff4 27.5%,#15fff4 30%,#6efff4 32.5%,#99fff3 35%,#bbfff3 37.5%,#d8fff3 40%,#f3fff3 42.5%,#fff1e6 45%,#ffdcd2 47.5%,#ffcac1 50%,#ffbbb2 52.5%,#ffaea5 55%,#ffa299 57.5%,#ff968e 60%,#ff8c84 62.5%,#ff827a 65%,#ff7971 67.5%,#ff7068 70%,#ff6860 72.5%,#ff5f57 75%,#ff574e 77.5%,#ff4e46 80%,#ff453c 82.5%,#ff3c32 85%,#ff3126 87.5%,#ff2516 90%,#ff1400 92.5%,#ff0000 95%,#ff0000 97.5%,#ff0000 100%)"></div><div style="top:154px;left:370.5px;width:157px;height:1px;background:linear-gradient(90deg,#00fff8 0%,#00fff8 2.5%,#00fff8 5%,#00fff8 7.5%,#00fff8 10%,#00fff8 12.5%,#00fff8 15%,#00fff8 17.5%,#00fff8 20%,#00fff8 22.5%,#00fff8 25%,#00fff8 27.5%,#3efff8 30%,#7dfff8 32.5%,#a4fff8 35%,#c5fff8 37.5%,#e2fff8 40%,#fffff8 42.5%,#ffe8e2 45%,#ffd4cf 47.5%,#ffc3be 50%,#ffb5b0 52.5%,#ffa8a3 55%,#ff9c97 57.5%,#ff918d 60%,#ff8783 62.5%,#ff7d79 65%,#ff7471 67.5%,#ff6b68 70%,#ff625f 72.5%,#ff5a57 75%,#ff514e 77.5%,#ff4846 80%,#ff3f3c 82.5%,#ff3432 85%,#ff2927 87.5%,#ff1917 90%,#ff0000 92.5%,#ff0000 95%,#ff0000 97.5%,#ff0000 100%)"></div><div style="top:155px;left:370.5px;width:155.5px;height:1px;background:linear-gradient(90deg,#00fffb 0%,#00fffb 2.6%,#00fffb 5.1%,#00fffb 7.7%,#00fffb 10.3%,#00fffb 12.8%,#00fffb 15.4%,#00fffb 17.9%,#00fffb 20.5%,#00fffb 23.1%,#00fffc 25.6%,#00fffc 28.2%,#57fffc 30.8%,#8cfffc 33.3%,#b1fffc 35.9%,#d1fffc 38.5%,#effffd 41%,#fff4f2 43.6%,#ffdedc 46.2%,#ffcbca 48.7%,#ffbbba 51.3%,#ffadac 53.8%,#ffa0a0 56.4%,#ff9494 59%,#ff8a8a 61.5%,#ff7f80 64.1%,#ff7677 66.7%,#ff6d6e 69.2%,#ff6466 71.8%,#ff5b5d 74.4%,#ff5255 76.9%,#ff484c 79.5%,#ff3f43 82.1%,#ff343a 84.6%,#ff2730 87.2%,#ff1723 89.7%,#ff0012 92.3%,#ff0000 94.9%,#ff0000 97.4%,#ff0000 100%)"></div><div style="top:156px;left:371px;width:153px;height:1px;background:linear-gradient(90deg,#00fffd 0%,#00fffe 2.6%,#00fffe 5.1%,#00fffe 7.7%,#00fffe 10.3%,#00fffe 12.8%,#00ffff 15.4%,#00ffff 17.9%,#00ffff 20.5%,#00ffff 23.1%,#00ffff 25.6%,#00ffff 28.2%,#59feff 30.8%,#8dfeff 33.3%,#b2feff 35.9%,#d1feff 38.5%,#eefdff 41%,#fff3f6 43.6%,#ffdce0 46.2%,#ffcacd 48.7%,#ffbabd 51.3%,#ffacb0 53.8%,#ff9fa3 56.4%,#ff9398 59%,#ff898e 61.5%,#ff7e84 64.1%,#ff757b 66.7%,#ff6c72 69.2%,#ff636a 71.8%,#ff5a62 74.4%,#ff5059 76.9%,#ff4751 79.5%,#ff3d49 82.1%,#ff3240 84.6%,#ff2537 87.2%,#ff132c 89.7%,#ff0020 92.3%,#ff000c 94.9%,#ff0000 97.4%,#ff0000 100%)"></div><div style="top:157px;left:371px;width:151px;height:1px;background:linear-gradient(90deg,#00feff 0%,#00feff 2.6%,#00feff 5.3%,#00feff 7.9%,#00feff 10.5%,#00fdff 13.2%,#00fdff 15.8%,#00fdff 18.4%,#00fdff 21.1%,#00fdff 23.7%,#00fcff 26.3%,#00fcff 28.9%,#69fcff 31.6%,#97fbff 34.2%,#bafbff 36.8%,#d8fbff 39.5%,#f5fbff 42.1%,#ffe8f0 44.7%,#ffd3db 47.4%,#ffc1ca 50%,#ffb2ba 52.6%,#ffa4ad 55.3%,#ff98a1 57.9%,#ff8c96 60.5%,#ff828c 63.2%,#ff7882 65.8%,#ff6e79 68.4%,#ff6471 71.1%,#ff5b68 73.7%,#ff5260 76.3%,#ff4858 78.9%,#ff3e50 81.6%,#ff3347 84.2%,#ff263f 86.8%,#ff1335 89.5%,#ff002b 92.1%,#ff001d 94.7%,#ff0007 97.4%,#ff0000 100%)"></div><div style="top:158px;left:371.5px;width:148.5px;height:1px;background:linear-gradient(90deg,#00fdff 0%,#00fcff 2.6%,#00fcff 5.3%,#00fcff 7.9%,#00fcff 10.5%,#00fbff 13.2%,#00fbff 15.8%,#00fbff 18.4%,#00fbff 21.1%,#00faff 23.7%,#00faff 26.3%,#00faff 28.9%,#6af9ff 31.6%,#96f9ff 34.2%,#b8f8ff 36.8%,#d7f8ff 39.5%,#f3f8ff 42.1%,#ffe6f4 44.7%,#ffd1df 47.4%,#ffc0cd 50%,#ffb0be 52.6%,#ffa3b0 55.3%,#ff96a4 57.9%,#ff8b9a 60.5%,#ff818f 63.2%,#ff7686 65.8%,#ff6d7d 68.4%,#ff6375 71.1%,#ff5a6c 73.7%,#ff5164 76.3%,#ff475d 78.9%,#ff3d55 81.6%,#ff314d 84.2%,#ff2345 86.8%,#ff0e3c 89.5%,#ff0033 92.1%,#ff0028 94.7%,#ff001a 97.4%,#ff0002 100%)"></div><div style="top:159px;left:371.5px;width:146.5px;height:1px;background:linear-gradient(90deg,#00fbff 0%,#00fbff 2.7%,#00faff 5.4%,#00faff 8.1%,#00faff 10.8%,#00faff 13.5%,#00f9ff 16.2%,#00f9ff 18.9%,#00f9ff 21.6%,#00f8ff 24.3%,#00f8ff 27%,#2ff7ff 29.7%,#76f7ff 32.4%,#9ff6ff 35.1%,#c1f6ff 37.8%,#dff6ff 40.5%,#efeeff 43.2%,#ffdcef 45.9%,#ffc8da 48.6%,#ffb7c9 51.4%,#ffa8bb 54.1%,#ff9bae 56.8%,#ff8fa2 59.5%,#ff8497 62.2%,#ff798d 64.9%,#ff6f84 67.6%,#ff657b 70.3%,#ff5c73 73%,#ff526b 75.7%,#ff4863 78.4%,#ff3d5b 81.1%,#ff3253 83.8%,#ff234b 86.5%,#ff0d43 89.2%,#ff003a 91.9%,#ff0031 94.6%,#ff0026 97.3%,#ff0017 100%)"></div><div style="top:160px;left:372px;width:143.5px;height:1px;background:linear-gradient(90deg,#00f9ff 0%,#00f9ff 2.8%,#00f9ff 5.6%,#00f8ff 8.3%,#00f8ff 11.1%,#00f8ff 13.9%,#00f7ff 16.7%,#00f7ff 19.4%,#00f6ff 22.2%,#00f6ff 25%,#00f5ff 27.8%,#4cf5ff 30.6%,#83f4ff 33.3%,#aaf4ff 36.1%,#caf3ff 38.9%,#e7f4ff 41.7%,#f9e7ff 44.4%,#ffd2e9 47.2%,#ffbfd6 50%,#ffafc6 52.8%,#ffa1b8 55.6%,#ff94ab 58.3%,#ff88a0 61.1%,#ff7d95 63.9%,#ff728c 66.7%,#ff6883 69.4%,#ff5e7a 72.2%,#ff5472 75%,#ff4a6a 77.8%,#ff3f62 80.6%,#ff335a 83.3%,#ff2552 86.1%,#ff104a 88.9%,#ff0042 91.7%,#ff0039 94.4%,#ff0030 97.2%,#ff0025 100%)"></div><div style="top:161px;left:372px;width:141.5px;height:1px;background:linear-gradient(90deg,#00f7ff 0%,#00f7ff 2.8%,#00f7ff 5.6%,#00f6ff 8.3%,#00f6ff 11.1%,#00f6ff 13.9%,#00f5ff 16.7%,#00f5ff 19.4%,#00f4ff 22.2%,#00f4ff 25%,#00f3ff 27.8%,#48f2ff 30.6%,#80f2ff 33.3%,#a7f1ff 36.1%,#c7f1ff 38.9%,#e3f1ff 41.7%,#efe4ff 44.4%,#ffd2f0 47.2%,#ffbfdb 50%,#ffaeca 52.8%,#ffa0bc 55.6%,#ff93af 58.3%,#ff87a4 61.1%,#ff7c9a 63.9%,#ff7190 66.7%,#ff6787 69.4%,#ff5d7e 72.2%,#ff5376 75%,#ff496e 77.8%,#ff3e66 80.6%,#ff325f 83.3%,#ff2357 86.1%,#ff0b50 88.9%,#ff0048 91.7%,#ff0040 94.4%,#ff0037 97.2%,#ff002e 100%)"></div><div style="top:162px;left:372.5px;width:139px;height:1px;background:linear-gradient(90deg,#00f6ff 0%,#00f5ff 2.9%,#00f5ff 5.7%,#00f5ff 8.6%,#00f4ff 11.4%,#00f4ff 14.3%,#00f3ff 17.1%,#00f2ff 20%,#00f2ff 22.9%,#00f1ff 25.7%,#00f1ff 28.6%,#5ef0ff 31.4%,#8eefff 34.3%,#b2efff 37.1%,#d1efff 40%,#e3eaff 42.9%,#fcdcff 45.7%,#ffc7e9 48.6%,#ffb5d6 51.4%,#ffa5c6 54.3%,#ff97b8 57.1%,#ff8bac 60%,#ff7fa1 62.9%,#ff7497 65.7%,#ff698d 68.6%,#ff5f84 71.4%,#ff547c 74.3%,#ff4a74 77.1%,#ff3f6c 80%,#ff3264 82.9%,#ff235d 85.7%,#ff0955 88.6%,#ff004e 91.4%,#ff0046 94.3%,#ff003e 97.1%,#ff0035 100%)"></div><div style="top:163px;left:372.5px;width:137px;height:1px;background:linear-gradient(90deg,#00f4ff 0%,#00f4ff 2.9%,#00f3ff 5.7%,#00f3ff 8.6%,#00f2ff 11.4%,#00f2ff 14.3%,#00f1ff 17.1%,#00f0ff 20%,#00f0ff 22.9%,#00efff 25.7%,#00eeff 28.6%,#5beeff 31.4%,#8cedff 34.3%,#afedff 37.1%,#ceedff 40%,#dfe8ff 42.9%,#f2d9ff 45.7%,#ffc6ef 48.6%,#ffb4da 51.4%,#ffa5ca 54.3%,#ff97bd 57.1%,#ff8ab0 60%,#ff7ea5 62.9%,#ff739b 65.7%,#ff6891 68.6%,#ff5e89 71.4%,#ff5380 74.3%,#ff4978 77.1%,#ff3d70 80%,#ff3069 82.9%,#ff2062 85.7%,#ff035a 88.6%,#ff0053 91.4%,#ff004c 94.3%,#ff0044 97.1%,#ff003c 100%)"></div><div style="top:164px;left:373px;width:134.5px;height:1px;background:linear-gradient(90deg,#00f2ff 0%,#00f2ff 2.9%,#00f1ff 5.9%,#00f1ff 8.8%,#00f0ff 11.8%,#00f0ff 14.7%,#00efff 17.6%,#00eeff 20.6%,#00edff 23.5%,#00edff 26.5%,#1cecff 29.4%,#6febff 32.4%,#99ebff 35.3%,#baeaff 38.2%,#d6eaff 41.2%,#d9ddff 44.1%,#fdcfff 47.1%,#ffbbe9 50%,#ffaad5 52.9%,#ff9bc6 55.9%,#ff8eb9 58.8%,#ff81ad 61.8%,#ff76a2 64.7%,#ff6a98 67.6%,#ff608f 70.6%,#ff5586 73.5%,#ff4a7e 76.5%,#ff3e76 79.4%,#ff316e 82.4%,#ff2067 85.3%,#ff0160 88.2%,#ff0058 91.2%,#ff0051 94.1%,#ff004a 97.1%,#ff0042 100%)"></div><div style="top:165px;left:373px;width:132.5px;height:1px;background:linear-gradient(90deg,#00f1ff 0%,#00f0ff 2.9%,#00f0ff 5.9%,#00efff 8.8%,#00eeff 11.8%,#00eeff 14.7%,#00edff 17.6%,#00ecff 20.6%,#00ebff 23.5%,#00ebff 26.5%,#11eaff 29.4%,#6ce9ff 32.4%,#96e8ff 35.3%,#b7e8ff 38.2%,#d3e8ff 41.2%,#d5dcff 44.1%,#f5ceff 47.1%,#ffbbef 50%,#ffaadb 52.9%,#ff9bcb 55.9%,#ff8dbd 58.8%,#ff81b1 61.8%,#ff75a6 64.7%,#ff6a9c 67.6%,#ff5f93 70.6%,#ff548a 73.5%,#ff4882 76.5%,#ff3c7a 79.4%,#ff2f73 82.4%,#ff1d6b 85.3%,#ff0064 88.2%,#ff005d 91.2%,#ff0056 94.1%,#ff004f 97.1%,#ff0048 100%)"></div><div style="top:166px;left:373px;width:130.5px;height:1px;background:linear-gradient(90deg,#00efff 0%,#00eeff 3%,#00eeff 6.1%,#00edff 9.1%,#00ecff 12.1%,#00ecff 15.2%,#00ebff 18.2%,#00eaff 21.2%,#00e9ff 24.2%,#00e8ff 27.3%,#39e7ff 30.3%,#78e7ff 33.3%,#a0e6ff 36.4%,#c0e6ff 39.4%,#d3e3ff 42.4%,#d5ceff 45.5%,#fcc4ff 48.5%,#ffb1eb 51.5%,#ffa1d7 54.5%,#ff92c7 57.6%,#ff85ba 60.6%,#ff78ae 63.6%,#ff6ca4 66.7%,#ff619a 69.7%,#ff5591 72.7%,#ff4a88 75.8%,#ff3d80 78.8%,#ff2f78 81.8%,#ff1d71 84.8%,#ff006a 87.9%,#ff0062 90.9%,#ff005b 93.9%,#ff0054 97%,#ff004d 100%)"></div><div style="top:167px;left:373.5px;width:128px;height:1px;background:linear-gradient(90deg,#00edff 0%,#00edff 3.1%,#00ecff 6.2%,#00ebff 9.4%,#00eaff 12.5%,#00eaff 15.6%,#00e9ff 18.8%,#00e8ff 21.9%,#00e7ff 25%,#00e6ff 28.1%,#55e5ff 31.2%,#88e4ff 34.4%,#ace4ff 37.5%,#c9e4ff 40.6%,#ced9ff 43.8%,#e1c7ff 46.9%,#ffb9fb 50%,#ffa7e5 53.1%,#ff97d2 56.2%,#ff88c3 59.4%,#ff7bb6 62.5%,#ff6fab 65.6%,#ff63a1 68.8%,#ff5797 71.9%,#ff4b8e 75%,#ff3e86 78.1%,#ff307e 81.2%,#ff1d76 84.4%,#ff006f 87.5%,#ff0068 90.6%,#ff0060 93.8%,#ff0059 96.9%,#ff0052 100%)"></div><div style="top:168px;left:373.5px;width:126px;height:1px;background:linear-gradient(90deg,#00ebff 0%,#00ebff 3.1%,#00eaff 6.2%,#00e9ff 9.4%,#00e8ff 12.5%,#00e8ff 15.6%,#00e7ff 18.8%,#00e6ff 21.9%,#01e5ff 25%,#01e4ff 28.1%,#52e3ff 31.2%,#85e2ff 34.4%,#a9e2ff 37.5%,#c5e2ff 40.6%,#cad7ff 43.8%,#d8c3ff 46.9%,#fdb8ff 50%,#ffa6eb 53.1%,#ff96d8 56.2%,#ff88c8 59.4%,#ff7aba 62.5%,#ff6eaf 65.6%,#ff62a5 68.8%,#ff569b 71.9%,#ff4a92 75%,#ff3c8a 78.1%,#ff2d82 81.2%,#ff197a 84.4%,#ff0073 87.5%,#ff006c 90.6%,#ff0065 93.8%,#ff005e 96.9%,#ff0057 100%)"></div><div style="top:169px;left:374px;width:123.5px;height:1px;background:linear-gradient(90deg,#00eaff 0%,#00e9ff 3.2%,#00e8ff 6.5%,#00e7ff 9.7%,#00e6ff 12.9%,#00e5ff 16.1%,#01e5ff 19.4%,#01e3ff 22.6%,#01e2ff 25.8%,#02e1ff 29%,#67e1ff 32.3%,#93e0ff 35.5%,#b4e0ff 38.7%,#c8dcff 41.9%,#c4cbff 45.2%,#e4bcff 48.4%,#ffadfa 51.6%,#ff9be5 54.8%,#ff8cd4 58.1%,#ff7ec4 61.3%,#ff71b7 64.5%,#ff64ac 67.7%,#ff58a2 71%,#ff4b98 74.2%,#ff3d90 77.4%,#ff2e87 80.6%,#ff1980 83.9%,#ff0078 87.1%,#ff0071 90.3%,#ff006a 93.5%,#ff0063 96.8%,#ff005c 100%)"></div><div style="top:170px;left:374.5px;width:121px;height:1px;background:linear-gradient(90deg,#00e8ff 0%,#00e7ff 3.2%,#00e6ff 6.5%,#00e5ff 9.7%,#01e4ff 12.9%,#01e4ff 16.1%,#01e3ff 19.4%,#02e1ff 22.6%,#02e0ff 25.8%,#03dfff 29%,#68dfff 32.3%,#93deff 35.5%,#b3deff 38.7%,#c4d9ff 41.9%,#c0c9ff 45.2%,#ddb8ff 48.4%,#ffabff 51.6%,#ff99ea 54.8%,#ff8ad9 58.1%,#ff7cc9 61.3%,#ff6fbb 64.5%,#ff62b0 67.7%,#ff56a5 71%,#ff499c 74.2%,#ff3b94 77.4%,#ff2b8b 80.6%,#ff1384 83.9%,#ff007c 87.1%,#ff0075 90.3%,#ff006e 93.5%,#ff0067 96.8%,#ff0061 100%)"></div><div style="top:171px;left:374.5px;width:118.5px;height:1px;background:linear-gradient(90deg,#00e6ff 0%,#00e5ff 3.3%,#01e4ff 6.7%,#01e4ff 10%,#01e3ff 13.3%,#02e2ff 16.7%,#02e0ff 20%,#03dfff 23.3%,#03deff 26.7%,#2eddff 30%,#73ddff 33.3%,#9bdcff 36.7%,#b9dcff 40%,#c0d1ff 43.3%,#beb9ff 46.7%,#e5b1ff 50%,#ffa2fb 53.3%,#ff91e7 56.7%,#ff82d6 60%,#ff74c7 63.3%,#ff66ba 66.7%,#ff59ae 70%,#ff4ca4 73.3%,#ff3e9a 76.7%,#ff2e92 80%,#ff178a 83.3%,#ff0083 86.7%,#ff007b 90%,#ff0074 93.3%,#ff006d 96.7%,#ff0066 100%)"></div><div style="top:172px;left:375px;width:116px;height:1px;background:linear-gradient(90deg,#01e4ff 0%,#01e3ff 3.4%,#01e3ff 6.9%,#02e2ff 10.3%,#02e1ff 13.8%,#03dfff 17.2%,#03deff 20.7%,#03ddff 24.1%,#04dcff 27.6%,#4fdbff 31%,#83daff 34.5%,#a7daff 37.9%,#bed7ff 41.4%,#bac7ff 44.8%,#cab1ff 48.3%,#f2a8ff 51.7%,#ff96f5 55.2%,#ff86e2 58.6%,#ff77d2 62.1%,#ff69c3 65.5%,#ff5bb7 69%,#ff4eab 72.4%,#ff3fa1 75.9%,#ff2e98 79.3%,#ff1690 82.8%,#ff0089 86.2%,#ff0080 89.7%,#ff0079 93.1%,#ff0072 96.6%,#ff006b 100%)"></div><div style="top:173px;left:375px;width:114px;height:1px;background:linear-gradient(90deg,#01e3ff 0%,#02e2ff 3.4%,#02e1ff 6.9%,#02e0ff 10.3%,#03dfff 13.8%,#03deff 17.2%,#04dcff 20.7%,#04dbff 24.1%,#05daff 27.6%,#4bd9ff 31%,#80d9ff 34.5%,#a4d9ff 37.9%,#bad5ff 41.4%,#b7c5ff 44.8%,#c1aeff 48.3%,#e7a5ff 51.7%,#ff95fc 55.2%,#ff85e8 58.6%,#ff76d8 62.1%,#ff68c9 65.5%,#ff5abc 69%,#ff4cb1 72.4%,#ff3da7 75.9%,#ff2b9e 79.3%,#ff1097 82.8%,#ff008f 86.2%,#ff0085 89.7%,#ff007d 93.1%,#ff0076 96.6%,#ff006f 100%)"></div><div style="top:174px;left:375.5px;width:111.5px;height:1px;background:linear-gradient(90deg,#02e1ff 0%,#02e0ff 3.6%,#03dfff 7.1%,#03deff 10.7%,#04ddff 14.3%,#04dbff 17.9%,#05daff 21.4%,#05d9ff 25%,#06d7ff 28.6%,#62d7ff 32.1%,#8ed7ff 35.7%,#add6ff 39.3%,#b5cbff 42.9%,#afb6ff 46.4%,#cda6ff 50%,#f39bff 53.6%,#ff8af5 57.1%,#ff7ae3 60.7%,#ff6bd3 64.3%,#ff5cc6 67.9%,#ff4db9 71.4%,#ff3eae 75%,#ff2ca5 78.6%,#ff0f9e 82.1%,#ff0095 85.7%,#ff008b 89.3%,#ff0082 92.9%,#ff007a 96.4%,#ff0074 100%)"></div><div style="top:175px;left:376px;width:109px;height:1px;background:linear-gradient(90deg,#03dfff 0%,#03deff 3.6%,#03ddff 7.1%,#04dcff 10.7%,#04dbff 14.3%,#05d9ff 17.9%,#05d8ff 21.4%,#06d7ff 25%,#06d5ff 28.6%,#63d5ff 32.1%,#8ed5ff 35.7%,#acd4ff 39.3%,#b1c8ff 42.9%,#abb4ff 46.4%,#c6a2ff 50%,#eb98ff 53.6%,#ff87fb 57.1%,#ff77e8 60.7%,#ff68d9 64.3%,#ff5acb 67.9%,#ff4bbf 71.4%,#ff3bb4 75%,#ff28ab 78.6%,#ff04a4 82.1%,#ff009a 85.7%,#ff0091 89.3%,#ff0087 92.9%,#ff007f 96.4%,#ff0078 100%)"></div><div style="top:176px;left:376px;width:107px;height:1px;background:linear-gradient(90deg,#03ddff 0%,#04dcff 3.7%,#04dbff 7.4%,#05daff 11.1%,#05d9ff 14.8%,#06d7ff 18.5%,#06d6ff 22.2%,#07d4ff 25.9%,#25d3ff 29.6%,#71d3ff 33.3%,#98d3ff 37%,#b0d0ff 40.7%,#acbeff 44.4%,#aba4ff 48.1%,#cf9aff 51.9%,#f38eff 55.6%,#ff7cf6 59.3%,#ff6ce4 63%,#ff5dd5 66.7%,#ff4dc8 70.4%,#ff3dbc 74.1%,#ff29b2 77.8%,#ff04ac 81.5%,#ff00a1 85.2%,#ff0097 88.9%,#ff008e 92.6%,#ff0084 96.3%,#ff007c 100%)"></div><div style="top:177px;left:376.5px;width:104.5px;height:1px;background:linear-gradient(90deg,#04dcff 0%,#04dbff 3.7%,#05d9ff 7.4%,#05d8ff 11.1%,#06d7ff 14.8%,#06d5ff 18.5%,#07d4ff 22.2%,#07d2ff 25.9%,#2dd1ff 29.6%,#72d1ff 33.3%,#98d1ff 37%,#acccff 40.7%,#a8bbff 44.4%,#a5a0ff 48.1%,#c896ff 51.9%,#ed8bff 55.6%,#ff7afc 59.3%,#ff6aea 63%,#ff5adb 66.7%,#ff4bce 70.4%,#ff39c2 74.1%,#ff24b8 77.8%,#ff00b1 81.5%,#ff00a7 85.2%,#ff009c 88.9%,#ff0093 92.6%,#ff008a 96.3%,#ff0081 100%)"></div><div style="top:178px;left:377px;width:102px;height:1px;background:linear-gradient(90deg,#05daff 0%,#05d9ff 3.8%,#06d7ff 7.7%,#06d6ff 11.5%,#07d5ff 15.4%,#07d3ff 19.2%,#08d2ff 23.1%,#08d0ff 26.9%,#4ecfff 30.8%,#81cfff 34.6%,#a1ceff 38.5%,#a7c2ff 42.3%,#a1b0ff 46.2%,#b097ff 50%,#d48cff 53.8%,#f57fff 57.7%,#ff6ef6 61.5%,#ff5de5 65.4%,#ff4dd7 69.2%,#ff3bcb 73.1%,#ff25c0 76.9%,#ff00b9 80.8%,#ff00ad 84.6%,#ff00a3 88.5%,#ff0099 92.3%,#ff0090 96.2%,#ff0087 100%)"></div><div style="top:179px;left:377px;width:100px;height:1px;background:linear-gradient(90deg,#05d8ff 0%,#06d7ff 4%,#06d6ff 8%,#07d4ff 12%,#07d3ff 16%,#08d1ff 20%,#09cfff 24%,#09cdff 28%,#5fcdff 32%,#8ccdff 36%,#a6caff 40%,#a1b8ff 44%,#999cff 48%,#b98eff 52%,#de82ff 56%,#fa73ff 60%,#ff61f2 64%,#ff50e2 68%,#ff3dd4 72%,#ff26c9 76%,#ff00c1 80%,#ff00b5 84%,#ff00aa 88%,#ff009f 92%,#ff0095 96%,#ff008c 100%)"></div><div style="top:180px;left:377.5px;width:97.5px;height:1px;background:linear-gradient(90deg,#06d6ff 0%,#06d5ff 4%,#07d4ff 8%,#08d2ff 12%,#08d1ff 16%,#09cfff 20%,#09cdff 24%,#0acbff 28%,#61cbff 32%,#8ccbff 36%,#a2c7ff 40%,#9eb5ff 44%,#959aff 48%,#b38aff 52%,#d67eff 56%,#f470ff 60%,#ff5ef7 64%,#ff4ce8 68%,#ff39da 72%,#ff20cf 76%,#ff00c6 80%,#ff00ba 84%,#ff00af 88%,#ff00a5 92%,#ff009b 96%,#ff0092 100%)"></div><div style="top:181px;left:377.5px;width:95.5px;height:1px;background:linear-gradient(90deg,#07d5ff 0%,#07d3ff 4.2%,#08d2ff 8.3%,#08d0ff 12.5%,#09cfff 16.7%,#0acdff 20.8%,#0acbff 25%,#18c9ff 29.2%,#6fcaff 33.3%,#93c8ff 37.5%,#9dbdff 41.7%,#98abff 45.8%,#998cff 50%,#bc80ff 54.2%,#e074ff 58.3%,#f962ff 62.5%,#ff50f3 66.7%,#ff3be4 70.8%,#ff22d8 75%,#ff00ce 79.2%,#ff00c2 83.3%,#ff00b6 87.5%,#ff00ab 91.7%,#ff00a1 95.8%,#ff0097 100%)"></div><div style="top:182px;left:378px;width:92.5px;height:1px;background:linear-gradient(90deg,#07d3ff 0%,#08d1ff 4.2%,#08d0ff 8.3%,#09ceff 12.5%,#0acdff 16.7%,#0acbff 20.8%,#0bc9ff 25%,#1bc7ff 29.2%,#6ec8ff 33.3%,#91c6ff 37.5%,#99baff 41.7%,#94a8ff 45.8%,#9189ff 50%,#b27dff 54.2%,#d470ff 58.3%,#f260ff 62.5%,#ff4dfb 66.7%,#ff39ec 70.8%,#ff1de0 75%,#ff00d5 79.2%,#ff00c9 83.3%,#ff00bd 87.5%,#ff00b2 91.7%,#ff00a8 95.8%,#ff009e 100%)"></div><div style="top:183px;left:378.5px;width:90px;height:1px;background:linear-gradient(90deg,#08d1ff 0%,#09cfff 4.3%,#09ceff 8.7%,#0accff 13%,#0bcaff 17.4%,#0bc8ff 21.7%,#0cc6ff 26.1%,#48c6ff 30.4%,#7dc6ff 34.8%,#98c2ff 39.1%,#93afff 43.5%,#8b9bff 47.8%,#9c7fff 52.2%,#bd72ff 56.5%,#e063ff 60.9%,#f750ff 65.2%,#ff3bf6 69.6%,#ff1ee9 73.9%,#ff00de 78.3%,#ff00d0 82.6%,#ff00c4 87%,#ff00b8 91.3%,#ff00ae 95.7%,#ff00a4 100%)"></div><div style="top:184px;left:378.5px;width:88px;height:1px;background:linear-gradient(90deg,#09cfff 0%,#09ceff 4.5%,#0accff 9.1%,#0bcaff 13.6%,#0bc8ff 18.2%,#0cc6ff 22.7%,#0dc4ff 27.3%,#5ac4ff 31.8%,#86c3ff 36.4%,#93b8ff 40.9%,#8da4ff 45.5%,#8382ff 50%,#a574ff 54.5%,#c766ff 59.1%,#e955ff 63.6%,#fc3eff 68.2%,#ff20f4 72.7%,#ff00e7 77.3%,#ff00d9 81.8%,#ff00cb 86.4%,#ff00bf 90.9%,#ff00b4 95.5%,#ff00aa 100%)"></div><div style="top:185px;left:379px;width:85.5px;height:1px;background:linear-gradient(90deg,#09cdff 0%,#0accff 4.5%,#0bcaff 9.1%,#0cc8ff 13.6%,#0cc6ff 18.2%,#0dc4ff 22.7%,#0ec2ff 27.3%,#5cc2ff 31.8%,#85c1ff 36.4%,#8fb4ff 40.9%,#89a1ff 45.5%,#7e7dff 50%,#9e70ff 54.5%,#bf61ff 59.1%,#e04fff 63.6%,#f538ff 68.2%,#ff15fb 72.7%,#ff00ed 77.3%,#ff00df 81.8%,#ff00d1 86.4%,#ff00c5 90.9%,#ff00ba 95.5%,#ff00af 100%)"></div><div style="top:186px;left:379.5px;width:83px;height:1px;background:linear-gradient(90deg,#0acbff 0%,#0bcaff 4.8%,#0cc8ff 9.5%,#0cc6ff 14.3%,#0dc4ff 19%,#0ec1ff 23.8%,#14bfff 28.6%,#6fc0ff 33.3%,#8ebdff 38.1%,#88a8ff 42.9%,#8093ff 47.6%,#8872ff 52.4%,#a963ff 57.1%,#ca51ff 61.9%,#e83bff 66.7%,#f817ff 71.4%,#ff00f7 76.2%,#ff00e7 81%,#ff00d9 85.7%,#ff00cc 90.5%,#ff00c0 95.2%,#ff00b5 100%)"></div><div style="top:187px;left:380px;width:80.5px;height:1px;background:linear-gradient(90deg,#0bc9ff 0%,#0cc8ff 4.8%,#0cc6ff 9.5%,#0dc4ff 14.3%,#0ec2ff 19%,#0fbfff 23.8%,#24bdff 28.6%,#6fbeff 33.3%,#8ab8ff 38.1%,#84a4ff 42.9%,#7b8fff 47.6%,#826dff 52.4%,#a15eff 57.1%,#c14cff 61.9%,#e034ff 66.7%,#ef01ff 71.4%,#ff00fd 76.2%,#ff00ed 81%,#ff00df 85.7%,#ff00d2 90.5%,#ff00c6 95.2%,#ff00bb 100%)"></div><div style="top:188px;left:380px;width:78.5px;height:1px;background:linear-gradient(90deg,#0cc8ff 0%,#0dc6ff 5%,#0dc4ff 10%,#0ec2ff 15%,#0fbfff 20%,#10bdff 25%,#44bcff 30%,#79bbff 35%,#84adff 40%,#7d98ff 45%,#7177ff 50%,#8a61ff 55%,#aa4fff 60%,#c937ff 65%,#e306ff 70%,#f600ff 75%,#ff00f7 80%,#ff00e8 85%,#ff00da 90%,#ff00cd 95%,#ff00c2 100%)"></div><div style="top:189px;left:380.5px;width:76px;height:1px;background:linear-gradient(90deg,#0dc5ff 0%,#0dc4ff 5.3%,#0ec1ff 10.5%,#0fbfff 15.8%,#10bdff 21.1%,#11baff 26.3%,#5dbaff 31.6%,#84b7ff 36.8%,#7da0ff 42.1%,#7389ff 47.4%,#7564ff 52.6%,#9551ff 57.9%,#b43aff 63.2%,#d10aff 68.4%,#ea00ff 73.7%,#fd00ff 78.9%,#ff00f0 84.2%,#ff00e2 89.5%,#ff00d4 94.7%,#ff00c8 100%)"></div><div style="top:190px;left:381px;width:73.5px;height:1px;background:linear-gradient(90deg,#0dc3ff 0%,#0ec1ff 5.3%,#0fbfff 10.5%,#10bdff 15.8%,#11baff 21.1%,#12b8ff 26.3%,#5fb8ff 31.6%,#7fb2ff 36.8%,#789cff 42.1%,#6e85ff 47.4%,#6e5eff 52.6%,#8d4bff 57.9%,#ab31ff 63.2%,#c602ff 68.4%,#e300ff 73.7%,#f600ff 78.9%,#ff00f7 84.2%,#ff00e8 89.5%,#ff00db 94.7%,#ff00ce 100%)"></div><div style="top:191px;left:381.5px;width:71px;height:1px;background:linear-gradient(90deg,#0ec1ff 0%,#0fbfff 5.6%,#10bdff 11.1%,#11baff 16.7%,#12b8ff 22.2%,#1eb5ff 27.8%,#6eb4ff 33.3%,#78a5ff 38.9%,#708dff 44.4%,#6169ff 50%,#784eff 55.6%,#9734ff 61.1%,#b205ff 66.7%,#d401ff 72.2%,#ec00ff 77.8%,#fe00ff 83.3%,#ff00f0 88.9%,#ff00e2 94.4%,#ff00d5 100%)"></div><div style="top:192px;left:381.5px;width:69px;height:1px;background:linear-gradient(90deg,#0fbfff 0%,#10bdff 5.6%,#11bbff 11.1%,#12b8ff 16.7%,#13b6ff 22.2%,#15b3ff 27.8%,#6bb2ff 33.3%,#74a2ff 38.9%,#6b8aff 44.4%,#5c67ff 50%,#6f48ff 55.6%,#8c2bff 61.1%,#a806ff 66.7%,#c802ff 72.2%,#e400ff 77.8%,#f600ff 83.3%,#ff00f7 88.9%,#ff00e9 94.4%,#ff00dc 100%)"></div><div style="top:193px;left:382px;width:66.5px;height:1px;background:linear-gradient(90deg,#10bdff 0%,#11bbff 5.9%,#12b8ff 11.8%,#13b6ff 17.6%,#15b3ff 23.5%,#49b2ff 29.4%,#74acff 35.3%,#6b93ff 41.2%,#5f79ff 47.1%,#5b4bff 52.9%,#782fff 58.8%,#9408ff 64.7%,#b504ff 70.6%,#d601ff 76.5%,#ec00ff 82.4%,#fe00ff 88.2%,#ff00f1 94.1%,#ff00e3 100%)"></div><div style="top:194px;left:382.5px;width:63.5px;height:1px;background:linear-gradient(90deg,#11bbff 0%,#12b8ff 6.2%,#13b6ff 12.5%,#14b3ff 18.8%,#16afff 25%,#5baeff 31.2%,#6c9eff 37.5%,#6284ff 43.8%,#505dff 50%,#6235ff 56.2%,#7e0aff 62.5%,#9f07ff 68.8%,#c003ff 75%,#df00ff 81.2%,#f200ff 87.5%,#ff00fb 93.8%,#ff00ec 100%)"></div><div style="top:195px;left:383px;width:61px;height:1px;background:linear-gradient(90deg,#12b9ff 0%,#13b6ff 6.2%,#14b3ff 12.5%,#16b0ff 18.8%,#17adff 25%,#5dabff 31.2%,#6798ff 37.5%,#5c7eff 43.8%,#4854ff 50%,#5928ff 56.2%,#760bff 62.5%,#9608ff 68.8%,#b504ff 75%,#d501ff 81.2%,#eb00ff 87.5%,#fc00ff 93.8%,#ff00f3 100%)"></div><div style="top:196px;left:383.5px;width:58.5px;height:1px;background:linear-gradient(90deg,#13b6ff 0%,#14b4ff 6.7%,#15b0ff 13.3%,#17adff 20%,#1daaff 26.7%,#67a5ff 33.3%,#5d87ff 40%,#4c68ff 46.7%,#452dff 53.3%,#620eff 60%,#830aff 66.7%,#a306ff 73.3%,#c303ff 80%,#e000ff 86.7%,#f300ff 93.3%,#ff00fb 100%)"></div><div style="top:197px;left:384px;width:56px;height:1px;background:linear-gradient(90deg,#14b4ff 0%,#15b1ff 7.1%,#17adff 14.3%,#19aaff 21.4%,#4aa7ff 28.6%,#5d93ff 35.7%,#5073ff 42.9%,#3336ff 50%,#4e10ff 57.1%,#700cff 64.3%,#9108ff 71.4%,#b105ff 78.6%,#d101ff 85.7%,#e900ff 92.9%,#fb00ff 100%)"></div><div style="top:198px;left:384px;width:54px;height:1px;background:linear-gradient(90deg,#15b2ff 0%,#16afff 7.1%,#18abff 14.3%,#1aa7ff 21.4%,#47a4ff 28.6%,#588eff 35.7%,#486dff 42.9%,#2522ff 50%,#4611ff 57.1%,#670dff 64.3%,#8709ff 71.4%,#a606ff 78.6%,#c403ff 85.7%,#e100ff 92.9%,#f300ff 100%)"></div><div style="top:199px;left:384.5px;width:51.5px;height:1px;background:linear-gradient(90deg,#16afff 0%,#18acff 7.7%,#19a8ff 15.4%,#1ca3ff 23.1%,#599dff 30.8%,#4a78ff 38.5%,#2b47ff 46.2%,#3113ff 53.8%,#530fff 61.5%,#750bff 69.2%,#9508ff 76.9%,#b404ff 84.6%,#d301ff 92.3%,#ea00ff 100%)"></div><div style="top:200px;left:385px;width:49px;height:1px;background:linear-gradient(90deg,#17acff 0%,#19a9ff 7.7%,#1ba5ff 15.4%,#1da0ff 23.1%,#5194ff 30.8%,#406cff 38.5%,#192aff 46.2%,#2b14ff 53.8%,#4d10ff 61.5%,#6c0cff 69.2%,#8b09ff 76.9%,#a806ff 84.6%,#c502ff 92.3%,#e100ff 100%)"></div><div style="top:201px;left:385.5px;width:46.5px;height:1px;background:linear-gradient(90deg,#19a9ff 0%,#1ba5ff 8.3%,#1da1ff 16.7%,#289bff 25%,#427bff 33.3%,#1c3fff 41.7%,#1719ff 50%,#3912ff 58.3%,#5a0fff 66.7%,#790bff 75%,#9807ff 83.3%,#b604ff 91.7%,#d401ff 100%)"></div><div style="top:202px;left:386px;width:44px;height:1px;background:linear-gradient(90deg,#1aa6ff 0%,#1ca1ff 9.1%,#1f9cff 18.2%,#4590ff 27.3%,#224fff 36.4%,#1a37ff 45.5%,#2415ff 54.5%,#4711ff 63.6%,#680dff 72.7%,#8809ff 81.8%,#a706ff 90.9%,#c503ff 100%)"></div><div style="top:203px;left:387px;width:41px;height:1px;background:linear-gradient(90deg,#1ca2ff 0%,#1e9dff 9.1%,#1f95ff 18.2%,#3578ff 27.3%,#1f4aff 36.4%,#1a38ff 45.5%,#2115ff 54.5%,#4111ff 63.6%,#600eff 72.7%,#7e0aff 81.8%,#9b07ff 90.9%,#b704ff 100%)"></div><div style="top:204px;left:387.5px;width:38.5px;height:1px;background:linear-gradient(90deg,#1e9eff 0%,#1f97ff 10%,#1f8cff 20%,#1f56ff 30%,#1e44ff 40%,#1826ff 50%,#2e14ff 60%,#4f10ff 70%,#6e0cff 80%,#8c09ff 90%,#a906ff 100%)"></div><div style="top:205px;left:388px;width:35.5px;height:1px;background:linear-gradient(90deg,#1f99ff 0%,#1f8fff 11.1%,#1f6eff 22.2%,#1f50ff 33.3%,#1c3eff 44.4%,#1717ff 55.6%,#3a12ff 66.7%,#5a0eff 77.8%,#790bff 88.9%,#9708ff 100%)"></div><div style="top:206px;left:388.5px;width:33px;height:1px;background:linear-gradient(90deg,#1f92ff 0%,#1f82ff 11.1%,#1f69ff 22.2%,#1f50ff 33.3%,#1c3fff 44.4%,#171dff 55.6%,#3213ff 66.7%,#5010ff 77.8%,#6d0cff 88.9%,#8909ff 100%)"></div><div style="top:207px;left:389.5px;width:30px;height:1px;background:linear-gradient(90deg,#1f84ff 0%,#1f7cff 12.5%,#1f5cff 25%,#1f49ff 37.5%,#1a36ff 50%,#2115ff 62.5%,#4112ff 75%,#5f0eff 87.5%,#7b0bff 100%)"></div><div style="top:208px;left:390.5px;width:27px;height:1px;background:linear-gradient(90deg,#1f7cff 0%,#1f74ff 14.3%,#1f53ff 28.6%,#1d41ff 42.9%,#1821ff 57.1%,#3113ff 71.4%,#5010ff 85.7%,#6e0cff 100%)"></div><div style="top:209px;left:391px;width:24.5px;height:1px;background:linear-gradient(90deg,#1f7cff 0%,#1f6bff 14.3%,#1f52ff 28.6%,#1d42ff 42.9%,#1828ff 57.1%,#2815ff 71.4%,#4511ff 85.7%,#600eff 100%)"></div><div style="top:210px;left:392px;width:21.5px;height:1px;background:linear-gradient(90deg,#1f7cff 0%,#1f5dff 16.7%,#1f4bff 33.3%,#1b3bff 50%,#1817ff 66.7%,#3613ff 83.3%,#530fff 100%)"></div><div style="top:211px;left:393.5px;width:18px;height:1px;background:linear-gradient(90deg,#1f6dff 0%,#1f53ff 20%,#1d43ff 40%,#1929ff 60%,#2815ff 80%,#4511ff 100%)"></div><div style="top:212px;left:394.5px;width:15px;height:1px;background:linear-gradient(90deg,#1f60ff 0%,#1f4cff 25%,#1b3bff 50%,#1817ff 75%,#3713ff 100%)"></div><div style="top:213px;left:395.5px;width:12px;height:1px;background:linear-gradient(90deg,#1f57ff 0%,#1e45ff 33.3%,#192bff 66.7%,#2914ff 100%)"></div></div><svg class="layer" width="550" height="272" viewBox="0 0 550 272"><path d="M401.5 214.1 L401.5 214.1 L401.5 214.1 L401.5 214.1 L401.5 214.1 L401.4 214.1 L401.4 214.1 L401.4 214.1 L401.4 214.1 L401.4 214.1 L401.4 214.1 L401.4 214.1 L401.4 214.1 L401.4 214.1 L401.3 214.1 L401.3 214.1 L401.3 214.1 L401.3 214.1 L401.3 214.1 L401.3 214.1 L401.2 214.1 L401.2 214.1 L401.2 214.1 L401.2 214.1 L401.2 214.1 L401.1 214.1 L401.1 214.1 L401.1 214.1 L401 214.1 L401 214.1 L401 214.1 L400.9 214.1 L400.9 214 L400.8 214 L400.8 214 L400.7 213.9 L400.7 213.9 L400.6 213.8 L400.5 213.8 L400.4 213.7 L400.3 213.6 L400.3 213.5 L400.1 213.5 L400 213.3 L399.9 213.2 L399.8 213.1 L399.7 213 L399.5 212.9 L399.4 212.7 L399.2 212.6 L399 212.4 L398.9 212.2 L398.7 212.1 L398.4 211.9 L398.2 211.6 L398 211.4 L397.7 211.2 L397.4 210.9 L397.1 210.6 L396.8 210.3 L396.5 210 L396.1 209.7 L395.8 209.3 L395.4 208.9 L395 208.4 L394.5 207.9 L394.1 207.4 L393.6 206.8 L393.1 206.1 L392.6 205.3 L392 204.3 L391.3 203.3 L390.7 202 L389.9 200.6 L389.2 199.1 L388.4 197.4 L387.5 195.4 L386.6 193.2 L385.6 190.7 L384.6 188 L383.6 184.9 L382.4 181.6 L381.2 177.9 L379.9 173.9 L378.7 169.4 L377.4 164.6 L376.1 159.4 L374.9 153.8 L373.6 147.9 L372.4 141.6 L371.1 135 L370 128.1 L368.9 121.1 L367.9 114 L367 106.8 L366.2 99.5 L365.6 92.4 L365.1 85.5 L364.8 78.7 L364.6 72.2 L364.6 65.9 L364.9 60 L365.3 54.3 L366 48.9 L366.8 44.2 L367.9 39.9 L369.2 36.1 L370.6 32.8 L372.2 30.1 L374 28 L375.8 26.6 L377.8 25.7 L379.9 25.1 L382 25 L384.1 25.4 L386.3 26 L388.5 26.8 L390.7 27.8 L392.9 28.9 L395.1 30.2 L397.3 31.5 L399.4 32.8 L401.5 34.1 L403.5 35.5 L405.5 37 L407.6 38.5 L409.5 40 L411.5 41.6 L413.5 43.2 L415.5 44.9 L417.4 46.6 L419.4 48.3 L421.3 50.1 L423.3 51.8 L425.2 53.7 L427.1 55.5 L429.1 57.4 L431 59.2 L432.9 61.1 L434.9 63 L436.8 65 L438.7 66.9 L440.7 68.9 L442.6 70.8 L444.5 72.8 L446.5 74.8 L448.4 76.8 L450.3 78.8 L452.2 80.8 L454.2 82.8 L456.1 84.8 L458 86.7 L459.9 88.7 L461.8 90.7 L463.7 92.7 L465.6 94.6 L467.4 96.6 L469.3 98.5 L471.1 100.5 L472.9 102.4 L474.7 104.3 L476.5 106.1 L478.2 108 L480 109.8 L481.7 111.6 L483.4 113.4 L485 115.1 L486.7 116.8 L488.3 118.5 L489.8 120.1 L491.4 121.7 L492.8 123.3 L494.3 124.8 L495.6 126.2 L497 127.6 L498.2 129 L499.5 130.3 L500.7 131.5 L501.9 132.8 L503 134 L504.1 135.1 L505.1 136.1 L506.1 137.2 L507 138.1 L507.9 139 L508.7 139.9 L509.5 140.8 L510.3 141.6 L511 142.3 L511.6 143 L512.3 143.7 L512.9 144.3 L513.4 144.9 L514 145.5 L514.5 146 L515 146.5 L515.4 147 L515.8 147.4 L516.2 147.8 L516.6 148.2 L517 148.6 L517.3 149 L517.7 149.4 L518 149.7 L518.3 150 L518.6 150.3 L518.9 150.6 L519.1 150.9 L519.4 151.2 L519.6 151.4 L519.9 151.6 L520.1 151.8 L520.3 152 L520.4 152.2 L520.6 152.4 L520.8 152.6 L520.9 152.7 L521 152.9 L521.2 153 L521.3 153.1 L521.4 153.3 L521.5 153.4 L521.6 153.5 L521.7 153.6 L521.8 153.6 L521.8 153.7 L521.9 153.8 L522 153.8 L522 153.9 L522.1 153.9 L522.1 154 L522.2 154 L522.2 154.1 L522.2 154.1 L522.3 154.2 L522.3 154.2 L522.4 154.3 L522.4 154.3 L522.4 154.3 L522.5 154.4 L522.5 154.4 L522.5 154.5 L522.6 154.5 L522.6 154.5 L522.6 154.6 L522.7 154.6 L522.7 154.6 L522.7 154.6 L522.7 154.6 L522.7 154.7 L522.7 154.7 L522.8 154.7 L522.8 154.7 L522.8 154.7 L522.8 154.7 L522.8 154.7 L522.8 154.7" fill="none" stroke="#111" stroke-width="1"/><line x1="522.8" y1="154.7" x2="401.5" y2="214.1" stroke="#3a1030" stroke-width="0.7"/><line x1="396.5" y1="210" x2="394.5" y2="212" stroke="#111" stroke-width="0.8"/><line x1="395" y1="208.4" x2="392.8" y2="210.2" stroke="#111" stroke-width="0.8"/><line x1="393.1" y1="206.1" x2="390.8" y2="207.7" stroke="#111" stroke-width="0.8"/><line x1="390.7" y1="202" x2="388.2" y2="203.3" stroke="#111" stroke-width="0.8"/><line x1="387.5" y1="195.4" x2="384.9" y2="196.5" stroke="#111" stroke-width="0.8"/><line x1="383.6" y1="184.9" x2="380.9" y2="185.8" stroke="#111" stroke-width="0.8"/><line x1="378.7" y1="169.4" x2="376" y2="170.2" stroke="#111" stroke-width="0.8"/><line x1="373.6" y1="147.9" x2="370.9" y2="148.5" stroke="#111" stroke-width="0.8"/><line x1="368.9" y1="121.1" x2="366.1" y2="121.5" stroke="#111" stroke-width="0.8"/><line x1="365.6" y1="92.4" x2="362.8" y2="92.7" stroke="#111" stroke-width="0.8"/><line x1="364.6" y1="65.9" x2="361.8" y2="65.8" stroke="#111" stroke-width="0.8"/><line x1="366.8" y1="44.2" x2="364.1" y2="43.6" stroke="#111" stroke-width="0.8"/><line x1="372.2" y1="30.1" x2="369.9" y2="28.5" stroke="#111" stroke-width="0.8"/><line x1="379.9" y1="25.1" x2="379.3" y2="22.3" stroke="#111" stroke-width="0.8"/><line x1="388.5" y1="26.8" x2="389.5" y2="24.2" stroke="#111" stroke-width="0.8"/><line x1="397.3" y1="31.5" x2="398.7" y2="29.1" stroke="#111" stroke-width="0.8"/><line x1="405.5" y1="37" x2="407.2" y2="34.7" stroke="#111" stroke-width="0.8"/><line x1="413.5" y1="43.2" x2="415.3" y2="41.1" stroke="#111" stroke-width="0.8"/><line x1="421.3" y1="50.1" x2="423.2" y2="48" stroke="#111" stroke-width="0.8"/><line x1="429.1" y1="57.4" x2="431" y2="55.3" stroke="#111" stroke-width="0.8"/><line x1="436.8" y1="65" x2="438.8" y2="63" stroke="#111" stroke-width="0.8"/><line x1="444.5" y1="72.8" x2="446.5" y2="70.9" stroke="#111" stroke-width="0.8"/><line x1="452.2" y1="80.8" x2="454.3" y2="78.8" stroke="#111" stroke-width="0.8"/><line x1="459.9" y1="88.7" x2="461.9" y2="86.8" stroke="#111" stroke-width="0.8"/><line x1="467.4" y1="96.6" x2="469.4" y2="94.7" stroke="#111" stroke-width="0.8"/><line x1="474.7" y1="104.3" x2="476.7" y2="102.3" stroke="#111" stroke-width="0.8"/><line x1="481.7" y1="111.6" x2="483.7" y2="109.7" stroke="#111" stroke-width="0.8"/><line x1="488.3" y1="118.5" x2="490.3" y2="116.6" stroke="#111" stroke-width="0.8"/><line x1="494.3" y1="124.8" x2="496.3" y2="122.9" stroke="#111" stroke-width="0.8"/><line x1="499.5" y1="130.3" x2="501.5" y2="128.3" stroke="#111" stroke-width="0.8"/><line x1="504.1" y1="135.1" x2="506.1" y2="133.1" stroke="#111" stroke-width="0.8"/><line x1="507.9" y1="139" x2="509.9" y2="137.1" stroke="#111" stroke-width="0.8"/><line x1="511" y1="142.3" x2="513" y2="140.4" stroke="#111" stroke-width="0.8"/><line x1="513.4" y1="144.9" x2="515.5" y2="143" stroke="#111" stroke-width="0.8"/><line x1="515.4" y1="147" x2="517.4" y2="145" stroke="#111" stroke-width="0.8"/><line x1="517" y1="148.6" x2="519" y2="146.7" stroke="#111" stroke-width="0.8"/><line x1="518.3" y1="150" x2="520.3" y2="148.1" stroke="#111" stroke-width="0.8"/><line x1="519.4" y1="151.2" x2="521.4" y2="149.2" stroke="#111" stroke-width="0.8"/><line x1="520.3" y1="152" x2="522.3" y2="150.1" stroke="#111" stroke-width="0.8"/><line x1="520.9" y1="152.7" x2="522.9" y2="150.8" stroke="#111" stroke-width="0.8"/><line x1="521.4" y1="153.3" x2="523.4" y2="151.3" stroke="#111" stroke-width="0.8"/><line x1="521.8" y1="153.6" x2="523.8" y2="151.7" stroke="#111" stroke-width="0.8"/><line x1="522" y1="153.9" x2="524" y2="152" stroke="#111" stroke-width="0.8"/><line x1="522.2" y1="154.1" x2="524.2" y2="152.2" stroke="#111" stroke-width="0.8"/><line x1="522.4" y1="154.3" x2="524.4" y2="152.3" stroke="#111" stroke-width="0.8"/><line x1="522.5" y1="154.4" x2="524.5" y2="152.5" stroke="#111" stroke-width="0.8"/><line x1="522.6" y1="154.6" x2="524.7" y2="152.6" stroke="#111" stroke-width="0.8"/><line x1="522.7" y1="154.6" x2="524.8" y2="152.7" stroke="#111" stroke-width="0.8"/><line x1="522.8" y1="154.7" x2="524.8" y2="152.8" stroke="#111" stroke-width="0.8"/><line x1="522.8" y1="154.7" x2="524.8" y2="152.8" stroke="#111" stroke-width="0.8"/><path d="M494.7 127.2 L491.8 125.4 L488.7 123.7 L485.5 122.2 L482.2 121 L478.8 120.2 L475.3 119.6 L471.7 119.5 L468.1 119.7 L464.5 120.2 L461 121.1 L457.5 122.3 L454.2 123.8 L451 125.4 L447.9 127.2 L445.1 129 L442.4 131 L439.9 132.9 L437.7 134.8 L435.6 136.7 L433.7 138.4 L431.9 140.2 L430.4 141.8 L428.9 143.3 L427.6 144.7 L426.5 146.1 L425.4 147.3 L424.5 148.4 L423.7 149.5 L422.9 150.5 L422.2 151.4 L421.6 152.2 L421.1 153 L420.6 153.7 L420.1 154.3 L419.7 154.9 L419.3 155.5 L419 156 L418.7 156.5 L418.4 156.9 L418.2 157.3 L418 157.7 L417.8 158 L417.6 158.3 L417.4 158.6 L417.3 158.9 L417.1 159.1 L417 159.3 L416.9 159.5 L416.8 159.7 L416.7 159.9 L416.6 160.1 L416.5 160.2 L416.4 160.4 L416.4 160.5 L416.3 160.6 L416.2 160.7 L416.2 160.8 L416.1 160.9 L416.1 161 L416 161.1 L416 161.2 L416 161.2 L415.9 161.3 L415.9 161.3 L415.9 161.4 L415.9 161.5 L415.8 161.5 L415.8 161.5 L415.8 161.6 L415.8 161.6 L415.7 161.7 L415.7 161.7 L415.7 161.7 L415.7 161.7 L415.7 161.8 L415.7 161.8 L415.7 161.8 L415.7 161.8 L415.6 161.9 L415.6 161.9 L415.6 161.9 L415.6 161.9 L415.6 161.9 L415.6 161.9 L415.6 162 L415.6 162 L415.6 162 L415.6 162 L415.6 162" fill="none" stroke="#111" stroke-width="1"/><line x1="417.4" y1="137.4" x2="430.6" y2="159.8" stroke="#111" stroke-width="0.9"/><line x1="433.1" y1="125" x2="434" y2="150.7" stroke="#111" stroke-width="0.9"/><line x1="448.4" y1="116.5" x2="442.9" y2="139.5" stroke="#111" stroke-width="0.9"/><line x1="461.8" y1="114" x2="454.4" y2="130.9" stroke="#111" stroke-width="0.9"/><line x1="472" y1="110.3" x2="464" y2="128.7" stroke="#111" stroke-width="0.9"/><line x1="480.9" y1="114" x2="474.3" y2="126.5" stroke="#111" stroke-width="0.9"/><line x1="425" y1="144.4" x2="426.6" y2="148.5" stroke="#111" stroke-width="0.8"/><line x1="426.9" y1="142" x2="428.3" y2="146.6" stroke="#111" stroke-width="0.8"/><line x1="429.6" y1="139.1" x2="430.5" y2="144.2" stroke="#111" stroke-width="0.8"/><line x1="431.3" y1="137.3" x2="431.9" y2="142.7" stroke="#111" stroke-width="0.8"/><line x1="435.8" y1="132.8" x2="435.7" y2="139.1" stroke="#111" stroke-width="0.8"/><line x1="438.8" y1="130.1" x2="438.2" y2="136.9" stroke="#111" stroke-width="0.8"/><line x1="442.6" y1="127" x2="441.4" y2="134.5" stroke="#111" stroke-width="0.8"/><line x1="453.4" y1="119.8" x2="450.2" y2="128.8" stroke="#111" stroke-width="0.8"/><line x1="411.2" y1="159.6" x2="415.4" y2="163.6" stroke="#111" stroke-width="1"/><text x="404" y="136.7" class="ct" style="font-size:5.6px" textLength="12.8" lengthAdjust="spacingAndGlyphs">10000</text><text x="427" y="122.5" class="ct" style="font-size:5.6px" textLength="10.2" lengthAdjust="spacingAndGlyphs">6000</text><text x="442.2" y="114.6" class="ct" style="font-size:5.6px" textLength="10.2" lengthAdjust="spacingAndGlyphs">4000</text><text x="455.6" y="111.2" class="ct" style="font-size:5.6px" textLength="10.2" lengthAdjust="spacingAndGlyphs">3000</text><text x="466.8" y="109.4" class="ct" style="font-size:5.6px" textLength="10.2" lengthAdjust="spacingAndGlyphs">2500</text><text x="469.3" y="132.6" class="ct" style="font-size:5.6px" textLength="10.2" lengthAdjust="spacingAndGlyphs">2000</text><text x="483.6" y="132.6" class="ct" style="font-size:5.6px" textLength="10.2" lengthAdjust="spacingAndGlyphs">1500</text><text x="405" y="158.8" class="ct" style="font-size:6px">&#8734;</text><text x="374.5" y="18.6" class="wl" textLength="11" lengthAdjust="spacingAndGlyphs">520</text><text x="414.2" y="37.6" class="wl" textLength="11" lengthAdjust="spacingAndGlyphs">540</text><text x="445.5" y="68.2" class="wl" textLength="11" lengthAdjust="spacingAndGlyphs">560</text><text x="501" y="126.4" class="wl" textLength="11" lengthAdjust="spacingAndGlyphs">600</text><text x="515" y="141.4" class="wl" textLength="11" lengthAdjust="spacingAndGlyphs">620</text><text x="525.3" y="157" class="wl" textLength="11" lengthAdjust="spacingAndGlyphs">700</text><text x="349.8" y="93.6" class="wl" textLength="11" lengthAdjust="spacingAndGlyphs">500</text><text x="364.2" y="154.2" class="wl" textLength="11" lengthAdjust="spacingAndGlyphs">490</text><text x="369.2" y="189.2" class="wl" textLength="11" lengthAdjust="spacingAndGlyphs">480</text><text x="376" y="206.5" class="wl" textLength="11" lengthAdjust="spacingAndGlyphs">470</text><text x="380" y="215.2" class="wl" textLength="11" lengthAdjust="spacingAndGlyphs">460</text><text x="402.8" y="217.6" class="wl" textLength="11" lengthAdjust="spacingAndGlyphs">380</text><text x="416.4" y="111.6" class="ct" style="font-size:8.2px">T<tspan style="font-size:5.8px" dy="1.6">c</tspan><tspan dy="-1.6">(°K)</tspan></text><rect x="470.4" y="119.2" width="33.3" height="32.3" fill="none" stroke="#4a3a30" stroke-width="0.8"/><rect x="477.2" y="141.2" width="6.6" height="1.8" fill="#3a3a6a"/><rect x="483.6" y="141.4" width="2" height="1.5" fill="#f0c0d0"/><ellipse cx="496" cy="127" rx="2.6" ry="1.2" transform="rotate(40 496 127)" fill="#f4c0d4"/><path d="M489.3 118.8 C494 116.2 497.6 112.4 499.4 106.8" fill="none" stroke="#e41010" stroke-width="2.4"/><path d="M502.8 99.3 L495.6 104.6 L503.4 107.4 Z" fill="#e41010"/><defs><clipPath id="icl"><rect x="455.2" y="4.6" width="88.4" height="94.6"/></clipPath><linearGradient id="ig" gradientUnits="userSpaceOnUse" x1="462" y1="4" x2="530" y2="104"><stop offset="0" stop-color="#ff9600"/><stop offset="0.5" stop-color="#ff6418"/><stop offset="1" stop-color="#ff2e22"/></linearGradient><linearGradient id="ig2" gradientUnits="userSpaceOnUse" x1="455" y1="99" x2="495" y2="45"><stop offset="0" stop-color="#ff7a70" stop-opacity="0.6"/><stop offset="1" stop-color="#ff7a70" stop-opacity="0"/></linearGradient></defs><g clip-path="url(#icl)"><rect x="455.2" y="4.6" width="88.4" height="94.6" fill="#fff"/><line x1="513.7" y1="4" x2="513.7" y2="22" stroke="#c8c8c8" stroke-width="0.9"/><line x1="513" y1="17.4" x2="544" y2="17.4" stroke="#c8c8c8" stroke-width="0.9"/><line x1="541.5" y1="4" x2="541.5" y2="48" stroke="#c8c8c8" stroke-width="0.9"/><path d="M455 4 L499.8 4 L544 51.8 L544 100 L455 100 Z" fill="url(#ig)"/><path d="M455 4 L499.8 4 L544 51.8 L544 100 L455 100 Z" fill="url(#ig2)"/><path d="M498.5 3.5 L544.5 52.6" stroke="#111" stroke-width="2.3" fill="none"/><path d="M454 9.2 L456 9.5 L458.9 9.8 L462.3 10.3 L465.9 10.8 L469.3 11.3 L472.4 11.8 L475.1 12.3 L477.8 12.9 L480.3 13.6 L482.7 14.2 L485 14.8 L487.1 15.5 L489 16.2 L490.8 16.8 L492.4 17.5 L494 18.2 L495.5 18.9 L497 19.6 L498.5 20.3 L499.9 21 L501.2 21.7 L502.6 22.4 L504 23.2 L505.4 24 L507 24.9 L508.7 26 L510.5 27 L512.1 28 L513.5 28.9 L514.5 29.5" fill="none" stroke="#111" stroke-width="1.8"/><line x1="474" y1="3.8" x2="454.8" y2="28.8" stroke="#111" stroke-width="1.8"/><line x1="498.3" y1="29" x2="510.4" y2="19" stroke="#111" stroke-width="1.8"/><line x1="514.8" y1="21.2" x2="519.8" y2="17.6" stroke="#111" stroke-width="1.6"/><line x1="529.2" y1="36" x2="537.2" y2="30.4" stroke="#111" stroke-width="1.6"/><line x1="501.5" y1="6.8" x2="506" y2="3.8" stroke="#111" stroke-width="1.6"/><text x="444.8" y="44.9" class="ct" style="font-size:16.5px;fill:#2a1508;stroke:#2a1508;stroke-width:0.45" textLength="27.6" lengthAdjust="spacingAndGlyphs">2000</text><text x="486.8" y="44.9" class="ct" style="font-size:16.5px;fill:#2a1508;stroke:#2a1508;stroke-width:0.45" textLength="27.5" lengthAdjust="spacingAndGlyphs">1500</text><text x="536" y="27.3" style="font-family:'Liberation Serif',serif;font-size:20.5px;fill:#0a0aff;stroke:#0a0aff;stroke-width:0.4">600</text><ellipse cx="520" cy="30.4" rx="7.8" ry="3.4" transform="rotate(45 520 30.4)" fill="#f6c0d4"/><line x1="508.2" y1="19" x2="530" y2="40.5" stroke="#e8e000" stroke-width="1"/><circle cx="515.2" cy="24.9" r="1.1" fill="#1a1010"/><circle cx="517.1" cy="26.8" r="1.2" fill="#1a1010"/><circle cx="519.2" cy="29" r="1" fill="#1a1010"/><circle cx="522" cy="31.7" r="0.9" fill="#1a1010"/><circle cx="524.6" cy="34.3" r="0.7" fill="#1a1010"/><path d="M467 74.4 Q476.5 69.2 490 77.6" fill="none" stroke="#f6c2d2" stroke-width="6" stroke-linecap="round"/><path d="M464.5 75.6 Q476 70.5 486 75.5 Q491 78.5 494.2 82" fill="none" stroke="#e8d800" stroke-width="1.1"/><circle cx="467.9" cy="73.8" r="1.5" fill="#1a1010"/><circle cx="472" cy="72.6" r="1.7" fill="#1a1010"/><circle cx="476" cy="72.8" r="1.5" fill="#1a1010"/><circle cx="480.3" cy="73.6" r="1.5" fill="#1a1010"/><circle cx="484" cy="74.8" r="1.2" fill="#1a1010"/><circle cx="487.3" cy="76.4" r="1" fill="#1a1010"/><circle cx="489.6" cy="77.8" r="0.9" fill="#1a1010"/></g><path d="M455.2 4.6 L455.2 99.2 L543.6 99.2" fill="none" stroke="#3a3030" stroke-width="0.9"/></svg></body></html>
